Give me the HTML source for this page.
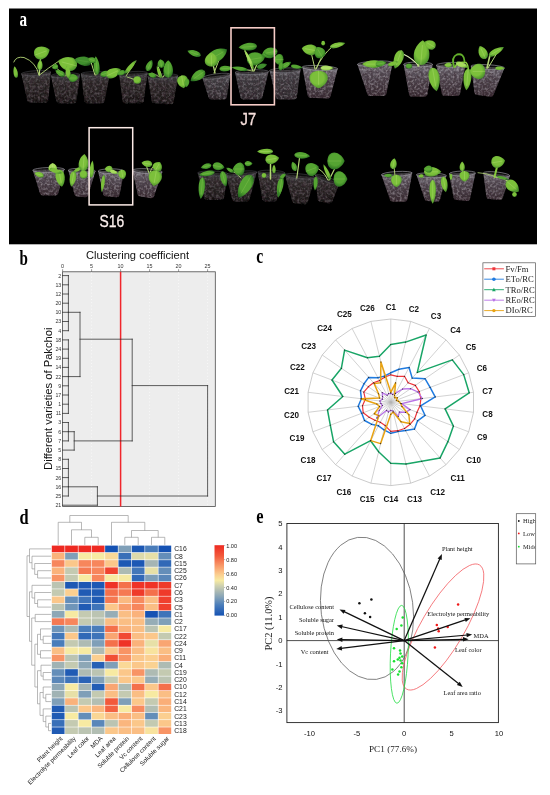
<!DOCTYPE html>
<html lang="en">
<head>
<meta charset="utf-8">
<title>Figure</title>
<style>
html,body{margin:0;padding:0;background:#fff;}
body{width:550px;height:795px;overflow:hidden;}
svg{display:block;}
.sans{font-family:"Liberation Sans",Arial,sans-serif;}
.serif{font-family:"Liberation Serif","Times New Roman",serif;}
.pl{font-family:"Liberation Serif","Times New Roman",serif;font-weight:bold;font-size:21px;}
</style>
</head>
<body>
<svg width="550" height="795" viewBox="0 0 550 795">
<rect x="0" y="0" width="550" height="795" fill="#ffffff"/>
<defs>
<linearGradient id="pg" x1="0" y1="0" x2="0" y2="1"><stop offset="0" stop-color="#77747c"/><stop offset="0.35" stop-color="#544b54"/><stop offset="1" stop-color="#34262d"/></linearGradient>
<linearGradient id="pm" x1="0" y1="0" x2="0" y2="1"><stop offset="0" stop-color="#5c5a60"/><stop offset="0.3" stop-color="#3b383c"/><stop offset="1" stop-color="#2a2428"/></linearGradient>
<linearGradient id="pd" x1="0" y1="0" x2="0" y2="1"><stop offset="0" stop-color="#3b3b3f"/><stop offset="0.3" stop-color="#2a2525"/><stop offset="0.85" stop-color="#1c1717"/><stop offset="1" stop-color="#0c0a0a"/></linearGradient>
<filter id="spk" x="0" y="0" width="100%" height="100%"><feTurbulence type="fractalNoise" baseFrequency="0.42" numOctaves="2" seed="7" result="n"/><feColorMatrix in="n" type="matrix" values="0 0 0 0 0.72  0 0 0 0 0.69  0 0 0 0 0.74  0 0 0 2.4 -1.0" result="c"/><feComposite in="c" in2="SourceGraphic" operator="in"/></filter>
<filter id="spd" x="0" y="0" width="100%" height="100%"><feTurbulence type="fractalNoise" baseFrequency="0.3" numOctaves="2" seed="23" result="n"/><feColorMatrix in="n" type="matrix" values="0 0 0 0 0.05  0 0 0 0 0.03  0 0 0 0 0.04  0 0 0 2.6 -1.0" result="c"/><feComposite in="c" in2="SourceGraphic" operator="in"/></filter>
<radialGradient id="lg1" cx="0.45" cy="0.42" r="0.62"><stop offset="0" stop-color="#7cc03b"/><stop offset="0.55" stop-color="#7cc03b"/><stop offset="1" stop-color="#488f2b"/></radialGradient>
<radialGradient id="lg2" cx="0.45" cy="0.42" r="0.62"><stop offset="0" stop-color="#55a431"/><stop offset="0.55" stop-color="#55a431"/><stop offset="1" stop-color="#276d21"/></radialGradient>
<radialGradient id="lg3" cx="0.45" cy="0.42" r="0.62"><stop offset="0" stop-color="#418e2d"/><stop offset="0.55" stop-color="#418e2d"/><stop offset="1" stop-color="#225c1e"/></radialGradient>
<radialGradient id="lg4" cx="0.45" cy="0.42" r="0.62"><stop offset="0" stop-color="#a8dc5e"/><stop offset="0.55" stop-color="#a8dc5e"/><stop offset="1" stop-color="#68b234"/></radialGradient>
<filter id="blp" x="-5%" y="-5%" width="110%" height="110%"><feGaussianBlur stdDeviation="0.6"/></filter>
<filter id="blr" x="-5%" y="-5%" width="110%" height="110%"><feGaussianBlur stdDeviation="0.35"/></filter>
</defs>
<g id="panel-a">
<rect x="9" y="8.5" width="528" height="235.8" fill="#000000"/>
<g filter="url(#blp)">
<path d="M21.3,73.6 L50.9,71.8 L48.2,100.7 Q47.7,102.7 45.2,102.7 L30.3,102.7 Q27.8,102.7 27.3,100.7 Z" fill="url(#pd)"/>
<path d="M21.3,73.6 L50.9,71.8 L48.2,100.7 Q47.7,102.7 45.2,102.7 L30.3,102.7 Q27.8,102.7 27.3,100.7 Z" fill="#fff" filter="url(#spd)" opacity="0.6"/>
<path d="M21.3,73.6 L50.9,71.8 L48.2,100.7 Q47.7,102.7 45.2,102.7 L30.3,102.7 Q27.8,102.7 27.3,100.7 Z" fill="#fff" filter="url(#spk)" opacity="0.24"/>
<ellipse cx="36.1" cy="73.0" rx="14.8" ry="2.4" fill="#1a1718" fill-opacity="0.5" stroke="#6e7078" stroke-width="0.8" stroke-opacity="0.4" transform="rotate(-3.5 36.1 72.7)"/>
<path d="M50.9,75.5 L80.0,74.5 L76.4,101.6 Q75.9,103.6 73.4,103.6 L59.4,103.6 Q56.9,103.6 56.4,101.6 Z" fill="url(#pd)"/>
<path d="M50.9,75.5 L80.0,74.5 L76.4,101.6 Q75.9,103.6 73.4,103.6 L59.4,103.6 Q56.9,103.6 56.4,101.6 Z" fill="#fff" filter="url(#spd)" opacity="0.6"/>
<path d="M50.9,75.5 L80.0,74.5 L76.4,101.6 Q75.9,103.6 73.4,103.6 L59.4,103.6 Q56.9,103.6 56.4,101.6 Z" fill="#fff" filter="url(#spk)" opacity="0.24"/>
<ellipse cx="65.5" cy="75.3" rx="14.6" ry="2.4" fill="#1a1718" fill-opacity="0.5" stroke="#6e7078" stroke-width="0.8" stroke-opacity="0.4" transform="rotate(-2.0 65.5 75.0)"/>
<path d="M80.9,73.6 L110.0,73.6 L104.5,101.6 Q104.0,103.6 101.5,103.6 L87.5,103.6 Q85.0,103.6 84.5,101.6 Z" fill="url(#pd)"/>
<path d="M80.9,73.6 L110.0,73.6 L104.5,101.6 Q104.0,103.6 101.5,103.6 L87.5,103.6 Q85.0,103.6 84.5,101.6 Z" fill="#fff" filter="url(#spd)" opacity="0.6"/>
<path d="M80.9,73.6 L110.0,73.6 L104.5,101.6 Q104.0,103.6 101.5,103.6 L87.5,103.6 Q85.0,103.6 84.5,101.6 Z" fill="#fff" filter="url(#spk)" opacity="0.24"/>
<ellipse cx="95.5" cy="73.9" rx="14.5" ry="2.4" fill="#1a1718" fill-opacity="0.5" stroke="#6e7078" stroke-width="0.8" stroke-opacity="0.4" transform="rotate(0.0 95.5 73.6)"/>
<path d="M119.1,74.5 L147.6,72.7 L143.6,101.6 Q143.1,103.6 140.6,103.6 L125.7,103.6 Q123.2,103.6 122.7,101.6 Z" fill="url(#pd)"/>
<path d="M119.1,74.5 L147.6,72.7 L143.6,101.6 Q143.1,103.6 140.6,103.6 L125.7,103.6 Q123.2,103.6 122.7,101.6 Z" fill="#fff" filter="url(#spd)" opacity="0.6"/>
<path d="M119.1,74.5 L147.6,72.7 L143.6,101.6 Q143.1,103.6 140.6,103.6 L125.7,103.6 Q123.2,103.6 122.7,101.6 Z" fill="#fff" filter="url(#spk)" opacity="0.24"/>
<ellipse cx="133.3" cy="73.9" rx="14.2" ry="2.4" fill="#1a1718" fill-opacity="0.5" stroke="#6e7078" stroke-width="0.8" stroke-opacity="0.4" transform="rotate(-3.6 133.3 73.6)"/>
<path d="M147.6,76.4 L178.2,75.5 L173.6,102.5 Q173.1,104.5 170.6,104.5 L154.8,103.6 Q152.3,103.6 151.8,101.6 Z" fill="url(#pd)"/>
<path d="M147.6,76.4 L178.2,75.5 L173.6,102.5 Q173.1,104.5 170.6,104.5 L154.8,103.6 Q152.3,103.6 151.8,101.6 Z" fill="#fff" filter="url(#spd)" opacity="0.6"/>
<path d="M147.6,76.4 L178.2,75.5 L173.6,102.5 Q173.1,104.5 170.6,104.5 L154.8,103.6 Q152.3,103.6 151.8,101.6 Z" fill="#fff" filter="url(#spk)" opacity="0.24"/>
<ellipse cx="162.9" cy="76.2" rx="15.3" ry="2.4" fill="#1a1718" fill-opacity="0.5" stroke="#6e7078" stroke-width="0.8" stroke-opacity="0.4" transform="rotate(-1.7 162.9 76.0)"/>
<path d="M202.3,77.7 L230.5,74.1 L226.8,97.5 Q226.3,99.5 223.8,99.5 L211.6,99.5 Q209.1,99.5 208.6,97.5 Z" fill="url(#pm)"/>
<path d="M202.3,77.7 L230.5,74.1 L226.8,97.5 Q226.3,99.5 223.8,99.5 L211.6,99.5 Q209.1,99.5 208.6,97.5 Z" fill="#fff" filter="url(#spd)" opacity="0.6"/>
<path d="M202.3,77.7 L230.5,74.1 L226.8,97.5 Q226.3,99.5 223.8,99.5 L211.6,99.5 Q209.1,99.5 208.6,97.5 Z" fill="#fff" filter="url(#spk)" opacity="0.34"/>
<ellipse cx="216.4" cy="76.2" rx="14.1" ry="2.4" fill="#1a1718" fill-opacity="0.5" stroke="#85858c" stroke-width="0.8" stroke-opacity="0.6" transform="rotate(-7.3 216.4 75.9)"/>
<path d="M235.0,72.3 L268.6,71.4 L262.3,97.5 Q261.8,99.5 259.3,99.5 L243.5,99.5 Q241.0,99.5 240.5,97.5 Z" fill="url(#pm)"/>
<path d="M235.0,72.3 L268.6,71.4 L262.3,97.5 Q261.8,99.5 259.3,99.5 L243.5,99.5 Q241.0,99.5 240.5,97.5 Z" fill="#fff" filter="url(#spd)" opacity="0.6"/>
<path d="M235.0,72.3 L268.6,71.4 L262.3,97.5 Q261.8,99.5 259.3,99.5 L243.5,99.5 Q241.0,99.5 240.5,97.5 Z" fill="#fff" filter="url(#spk)" opacity="0.34"/>
<ellipse cx="251.8" cy="72.1" rx="16.8" ry="2.4" fill="#1a1718" fill-opacity="0.5" stroke="#85858c" stroke-width="0.8" stroke-opacity="0.6" transform="rotate(-1.5 251.8 71.8)"/>
<path d="M269.5,70.5 L300.5,69.5 L296.8,97.5 Q296.3,99.5 293.8,99.5 L278.9,99.5 Q276.4,99.5 275.9,97.5 Z" fill="url(#pm)"/>
<path d="M269.5,70.5 L300.5,69.5 L296.8,97.5 Q296.3,99.5 293.8,99.5 L278.9,99.5 Q276.4,99.5 275.9,97.5 Z" fill="#fff" filter="url(#spd)" opacity="0.6"/>
<path d="M269.5,70.5 L300.5,69.5 L296.8,97.5 Q296.3,99.5 293.8,99.5 L278.9,99.5 Q276.4,99.5 275.9,97.5 Z" fill="#fff" filter="url(#spk)" opacity="0.34"/>
<ellipse cx="285.0" cy="70.3" rx="15.5" ry="2.4" fill="#1a1718" fill-opacity="0.5" stroke="#85858c" stroke-width="0.8" stroke-opacity="0.6" transform="rotate(-1.8 285.0 70.0)"/>
<path d="M302.3,66.8 L337.7,68.6 L330.5,96.6 Q330.0,98.6 327.5,98.6 L310.7,97.7 Q308.2,97.7 307.7,95.7 Z" fill="url(#pg)"/>
<path d="M302.3,66.8 L337.7,68.6 L330.5,96.6 Q330.0,98.6 327.5,98.6 L310.7,97.7 Q308.2,97.7 307.7,95.7 Z" fill="#fff" filter="url(#spd)" opacity="0.6"/>
<path d="M302.3,66.8 L337.7,68.6 L330.5,96.6 Q330.0,98.6 327.5,98.6 L310.7,97.7 Q308.2,97.7 307.7,95.7 Z" fill="#fff" filter="url(#spk)" opacity="0.4"/>
<ellipse cx="320.0" cy="68.0" rx="17.7" ry="2.4" fill="#1a1718" fill-opacity="0.5" stroke="#a5a3ad" stroke-width="0.8" stroke-opacity="0.75" transform="rotate(2.9 320.0 67.7)"/>
<path d="M357.3,64.1 L392.7,62.3 L386.4,93.9 Q385.9,95.9 383.4,95.9 L370.3,95.9 Q367.8,95.9 367.3,93.9 Z" fill="url(#pg)"/>
<path d="M357.3,64.1 L392.7,62.3 L386.4,93.9 Q385.9,95.9 383.4,95.9 L370.3,95.9 Q367.8,95.9 367.3,93.9 Z" fill="#fff" filter="url(#spd)" opacity="0.6"/>
<path d="M357.3,64.1 L392.7,62.3 L386.4,93.9 Q385.9,95.9 383.4,95.9 L370.3,95.9 Q367.8,95.9 367.3,93.9 Z" fill="#fff" filter="url(#spk)" opacity="0.4"/>
<ellipse cx="375.0" cy="63.5" rx="17.7" ry="2.4" fill="#1a1718" fill-opacity="0.5" stroke="#a5a3ad" stroke-width="0.8" stroke-opacity="0.75" transform="rotate(-2.9 375.0 63.2)"/>
<path d="M403.6,64.1 L432.7,64.1 L427.3,94.8 Q426.8,96.8 424.3,96.8 L412.1,96.8 Q409.6,96.8 409.1,94.8 Z" fill="url(#pg)"/>
<path d="M403.6,64.1 L432.7,64.1 L427.3,94.8 Q426.8,96.8 424.3,96.8 L412.1,96.8 Q409.6,96.8 409.1,94.8 Z" fill="#fff" filter="url(#spd)" opacity="0.6"/>
<path d="M403.6,64.1 L432.7,64.1 L427.3,94.8 Q426.8,96.8 424.3,96.8 L412.1,96.8 Q409.6,96.8 409.1,94.8 Z" fill="#fff" filter="url(#spk)" opacity="0.4"/>
<ellipse cx="418.1" cy="64.4" rx="14.5" ry="2.4" fill="#1a1718" fill-opacity="0.5" stroke="#a5a3ad" stroke-width="0.8" stroke-opacity="0.75" transform="rotate(0.0 418.1 64.1)"/>
<path d="M436.4,65.0 L465.5,64.1 L460.0,93.9 Q459.5,95.9 457.0,95.9 L444.8,95.9 Q442.3,95.9 441.8,93.9 Z" fill="url(#pg)"/>
<path d="M436.4,65.0 L465.5,64.1 L460.0,93.9 Q459.5,95.9 457.0,95.9 L444.8,95.9 Q442.3,95.9 441.8,93.9 Z" fill="#fff" filter="url(#spd)" opacity="0.6"/>
<path d="M436.4,65.0 L465.5,64.1 L460.0,93.9 Q459.5,95.9 457.0,95.9 L444.8,95.9 Q442.3,95.9 441.8,93.9 Z" fill="#fff" filter="url(#spk)" opacity="0.4"/>
<ellipse cx="450.9" cy="64.8" rx="14.6" ry="2.4" fill="#1a1718" fill-opacity="0.5" stroke="#a5a3ad" stroke-width="0.8" stroke-opacity="0.75" transform="rotate(-1.8 450.9 64.5)"/>
<path d="M470.9,65.9 L504.5,67.7 L493.6,94.8 Q493.1,96.8 490.6,96.8 L477.5,95.0 Q475.0,95.0 474.5,93.0 Z" fill="url(#pg)"/>
<path d="M470.9,65.9 L504.5,67.7 L493.6,94.8 Q493.1,96.8 490.6,96.8 L477.5,95.0 Q475.0,95.0 474.5,93.0 Z" fill="#fff" filter="url(#spd)" opacity="0.6"/>
<path d="M470.9,65.9 L504.5,67.7 L493.6,94.8 Q493.1,96.8 490.6,96.8 L477.5,95.0 Q475.0,95.0 474.5,93.0 Z" fill="#fff" filter="url(#spk)" opacity="0.4"/>
<ellipse cx="487.7" cy="67.1" rx="16.8" ry="2.4" fill="#1a1718" fill-opacity="0.5" stroke="#a5a3ad" stroke-width="0.8" stroke-opacity="0.75" transform="rotate(3.1 487.7 66.8)"/>
<path d="M32.7,170.0 L64.5,169.1 L58.2,193.5 Q57.7,195.5 55.2,195.5 L43.0,195.5 Q40.5,195.5 40.0,193.5 Z" fill="url(#pg)"/>
<path d="M32.7,170.0 L64.5,169.1 L58.2,193.5 Q57.7,195.5 55.2,195.5 L43.0,195.5 Q40.5,195.5 40.0,193.5 Z" fill="#fff" filter="url(#spd)" opacity="0.6"/>
<path d="M32.7,170.0 L64.5,169.1 L58.2,193.5 Q57.7,195.5 55.2,195.5 L43.0,195.5 Q40.5,195.5 40.0,193.5 Z" fill="#fff" filter="url(#spk)" opacity="0.4"/>
<ellipse cx="48.6" cy="169.9" rx="15.9" ry="2.4" fill="#1a1718" fill-opacity="0.5" stroke="#a5a3ad" stroke-width="0.8" stroke-opacity="0.75" transform="rotate(-1.6 48.6 169.6)"/>
<path d="M68.2,170.0 L95.5,170.9 L88.2,195.3 Q87.7,197.3 85.2,197.3 L77.5,196.4 Q75.0,196.4 74.5,194.4 Z" fill="url(#pg)"/>
<path d="M68.2,170.0 L95.5,170.9 L88.2,195.3 Q87.7,197.3 85.2,197.3 L77.5,196.4 Q75.0,196.4 74.5,194.4 Z" fill="#fff" filter="url(#spd)" opacity="0.6"/>
<path d="M68.2,170.0 L95.5,170.9 L88.2,195.3 Q87.7,197.3 85.2,197.3 L77.5,196.4 Q75.0,196.4 74.5,194.4 Z" fill="#fff" filter="url(#spk)" opacity="0.4"/>
<ellipse cx="81.8" cy="170.8" rx="13.6" ry="2.4" fill="#1a1718" fill-opacity="0.5" stroke="#a5a3ad" stroke-width="0.8" stroke-opacity="0.75" transform="rotate(1.9 81.8 170.4)"/>
<path d="M98.1,170.9 L124.1,170.9 L119.5,195.3 Q119.0,197.3 116.5,197.3 L106.2,196.4 Q103.7,196.4 103.2,194.4 Z" fill="url(#pg)"/>
<path d="M98.1,170.9 L124.1,170.9 L119.5,195.3 Q119.0,197.3 116.5,197.3 L106.2,196.4 Q103.7,196.4 103.2,194.4 Z" fill="#fff" filter="url(#spd)" opacity="0.6"/>
<path d="M98.1,170.9 L124.1,170.9 L119.5,195.3 Q119.0,197.3 116.5,197.3 L106.2,196.4 Q103.7,196.4 103.2,194.4 Z" fill="#fff" filter="url(#spk)" opacity="0.4"/>
<ellipse cx="111.1" cy="171.2" rx="13.0" ry="2.4" fill="#1a1718" fill-opacity="0.5" stroke="#a5a3ad" stroke-width="0.8" stroke-opacity="0.75" transform="rotate(0.0 111.1 170.9)"/>
<path d="M132.6,170.0 L162.3,171.8 L154.1,196.2 Q153.6,198.2 151.1,198.2 L140.7,196.4 Q138.2,196.4 137.7,194.4 Z" fill="url(#pg)"/>
<path d="M132.6,170.0 L162.3,171.8 L154.1,196.2 Q153.6,198.2 151.1,198.2 L140.7,196.4 Q138.2,196.4 137.7,194.4 Z" fill="#fff" filter="url(#spd)" opacity="0.6"/>
<path d="M132.6,170.0 L162.3,171.8 L154.1,196.2 Q153.6,198.2 151.1,198.2 L140.7,196.4 Q138.2,196.4 137.7,194.4 Z" fill="#fff" filter="url(#spk)" opacity="0.4"/>
<ellipse cx="147.4" cy="171.2" rx="14.9" ry="2.4" fill="#1a1718" fill-opacity="0.5" stroke="#a5a3ad" stroke-width="0.8" stroke-opacity="0.75" transform="rotate(3.5 147.4 170.9)"/>
<path d="M197.7,172.7 L227.7,173.6 L224.0,198.0 Q223.5,200.0 221.0,200.0 L207.0,200.0 Q204.5,200.0 204.0,198.0 Z" fill="url(#pd)"/>
<path d="M197.7,172.7 L227.7,173.6 L224.0,198.0 Q223.5,200.0 221.0,200.0 L207.0,200.0 Q204.5,200.0 204.0,198.0 Z" fill="#fff" filter="url(#spd)" opacity="0.6"/>
<path d="M197.7,172.7 L227.7,173.6 L224.0,198.0 Q223.5,200.0 221.0,200.0 L207.0,200.0 Q204.5,200.0 204.0,198.0 Z" fill="#fff" filter="url(#spk)" opacity="0.24"/>
<ellipse cx="212.7" cy="173.4" rx="15.0" ry="2.4" fill="#1a1718" fill-opacity="0.5" stroke="#6e7078" stroke-width="0.8" stroke-opacity="0.4" transform="rotate(1.7 212.7 173.1)"/>
<path d="M226.0,174.5 L256.8,171.8 L249.5,199.8 Q249.0,201.8 246.5,201.8 L235.3,201.8 Q232.8,201.8 232.3,199.8 Z" fill="url(#pd)"/>
<path d="M226.0,174.5 L256.8,171.8 L249.5,199.8 Q249.0,201.8 246.5,201.8 L235.3,201.8 Q232.8,201.8 232.3,199.8 Z" fill="#fff" filter="url(#spd)" opacity="0.6"/>
<path d="M226.0,174.5 L256.8,171.8 L249.5,199.8 Q249.0,201.8 246.5,201.8 L235.3,201.8 Q232.8,201.8 232.3,199.8 Z" fill="#fff" filter="url(#spk)" opacity="0.24"/>
<ellipse cx="241.4" cy="173.5" rx="15.4" ry="2.4" fill="#1a1718" fill-opacity="0.5" stroke="#6e7078" stroke-width="0.8" stroke-opacity="0.4" transform="rotate(-5.0 241.4 173.2)"/>
<path d="M257.7,171.8 L285.0,172.7 L277.0,199.8 Q276.5,201.8 274.0,201.8 L265.3,201.8 Q262.8,201.8 262.3,199.8 Z" fill="url(#pd)"/>
<path d="M257.7,171.8 L285.0,172.7 L277.0,199.8 Q276.5,201.8 274.0,201.8 L265.3,201.8 Q262.8,201.8 262.3,199.8 Z" fill="#fff" filter="url(#spd)" opacity="0.6"/>
<path d="M257.7,171.8 L285.0,172.7 L277.0,199.8 Q276.5,201.8 274.0,201.8 L265.3,201.8 Q262.8,201.8 262.3,199.8 Z" fill="#fff" filter="url(#spk)" opacity="0.24"/>
<ellipse cx="271.4" cy="172.6" rx="13.7" ry="2.4" fill="#1a1718" fill-opacity="0.5" stroke="#6e7078" stroke-width="0.8" stroke-opacity="0.4" transform="rotate(1.9 271.4 172.2)"/>
<path d="M285.0,174.5 L315.0,177.3 L307.7,202.5 Q307.2,204.5 304.7,204.5 L295.3,203.6 Q292.8,203.6 292.3,201.6 Z" fill="url(#pd)"/>
<path d="M285.0,174.5 L315.0,177.3 L307.7,202.5 Q307.2,204.5 304.7,204.5 L295.3,203.6 Q292.8,203.6 292.3,201.6 Z" fill="#fff" filter="url(#spd)" opacity="0.6"/>
<path d="M285.0,174.5 L315.0,177.3 L307.7,202.5 Q307.2,204.5 304.7,204.5 L295.3,203.6 Q292.8,203.6 292.3,201.6 Z" fill="#fff" filter="url(#spk)" opacity="0.24"/>
<ellipse cx="300.0" cy="176.2" rx="15.0" ry="2.4" fill="#1a1718" fill-opacity="0.5" stroke="#6e7078" stroke-width="0.8" stroke-opacity="0.4" transform="rotate(5.3 300.0 175.9)"/>
<path d="M315.0,174.5 L339.5,183.6 L332.3,201.6 Q331.8,203.6 329.3,203.6 L320.7,201.8 Q318.2,201.8 317.7,199.8 Z" fill="url(#pd)"/>
<path d="M315.0,174.5 L339.5,183.6 L332.3,201.6 Q331.8,203.6 329.3,203.6 L320.7,201.8 Q318.2,201.8 317.7,199.8 Z" fill="#fff" filter="url(#spd)" opacity="0.6"/>
<path d="M315.0,174.5 L339.5,183.6 L332.3,201.6 Q331.8,203.6 329.3,203.6 L320.7,201.8 Q318.2,201.8 317.7,199.8 Z" fill="#fff" filter="url(#spk)" opacity="0.24"/>
<ellipse cx="327.2" cy="179.4" rx="12.2" ry="2.4" fill="#1a1718" fill-opacity="0.5" stroke="#6e7078" stroke-width="0.8" stroke-opacity="0.4" transform="rotate(20.4 327.2 179.1)"/>
<path d="M381.3,174.5 L412.2,172.7 L407.3,199.8 Q406.8,201.8 404.3,201.8 L393.0,201.8 Q390.5,201.8 390.0,199.8 Z" fill="url(#pg)"/>
<path d="M381.3,174.5 L412.2,172.7 L407.3,199.8 Q406.8,201.8 404.3,201.8 L393.0,201.8 Q390.5,201.8 390.0,199.8 Z" fill="#fff" filter="url(#spd)" opacity="0.6"/>
<path d="M381.3,174.5 L412.2,172.7 L407.3,199.8 Q406.8,201.8 404.3,201.8 L393.0,201.8 Q390.5,201.8 390.0,199.8 Z" fill="#fff" filter="url(#spk)" opacity="0.4"/>
<ellipse cx="396.8" cy="173.9" rx="15.4" ry="2.4" fill="#1a1718" fill-opacity="0.5" stroke="#a5a3ad" stroke-width="0.8" stroke-opacity="0.75" transform="rotate(-3.3 396.8 173.6)"/>
<path d="M416.4,174.5 L446.4,175.5 L440.0,199.8 Q439.5,201.8 437.0,201.8 L427.5,200.9 Q425.0,200.9 424.5,198.9 Z" fill="url(#pg)"/>
<path d="M416.4,174.5 L446.4,175.5 L440.0,199.8 Q439.5,201.8 437.0,201.8 L427.5,200.9 Q425.0,200.9 424.5,198.9 Z" fill="#fff" filter="url(#spd)" opacity="0.6"/>
<path d="M416.4,174.5 L446.4,175.5 L440.0,199.8 Q439.5,201.8 437.0,201.8 L427.5,200.9 Q425.0,200.9 424.5,198.9 Z" fill="#fff" filter="url(#spk)" opacity="0.4"/>
<ellipse cx="431.4" cy="175.3" rx="15.0" ry="2.4" fill="#1a1718" fill-opacity="0.5" stroke="#a5a3ad" stroke-width="0.8" stroke-opacity="0.75" transform="rotate(1.9 431.4 175.0)"/>
<path d="M449.1,173.6 L475.5,172.7 L470.0,198.9 Q469.5,200.9 467.0,200.9 L456.6,200.0 Q454.1,200.0 453.6,198.0 Z" fill="url(#pg)"/>
<path d="M449.1,173.6 L475.5,172.7 L470.0,198.9 Q469.5,200.9 467.0,200.9 L456.6,200.0 Q454.1,200.0 453.6,198.0 Z" fill="#fff" filter="url(#spd)" opacity="0.6"/>
<path d="M449.1,173.6 L475.5,172.7 L470.0,198.9 Q469.5,200.9 467.0,200.9 L456.6,200.0 Q454.1,200.0 453.6,198.0 Z" fill="#fff" filter="url(#spk)" opacity="0.4"/>
<ellipse cx="462.3" cy="173.4" rx="13.2" ry="2.4" fill="#1a1718" fill-opacity="0.5" stroke="#a5a3ad" stroke-width="0.8" stroke-opacity="0.75" transform="rotate(-2.0 462.3 173.1)"/>
<path d="M483.3,172.7 L510.0,175.5 L502.7,198.0 Q502.2,200.0 499.7,200.0 L489.4,199.0 Q486.9,199.0 486.4,197.0 Z" fill="url(#pg)"/>
<path d="M483.3,172.7 L510.0,175.5 L502.7,198.0 Q502.2,200.0 499.7,200.0 L489.4,199.0 Q486.9,199.0 486.4,197.0 Z" fill="#fff" filter="url(#spd)" opacity="0.6"/>
<path d="M483.3,172.7 L510.0,175.5 L502.7,198.0 Q502.2,200.0 499.7,200.0 L489.4,199.0 Q486.9,199.0 486.4,197.0 Z" fill="#fff" filter="url(#spk)" opacity="0.4"/>
<ellipse cx="496.6" cy="174.4" rx="13.3" ry="2.4" fill="#1a1718" fill-opacity="0.5" stroke="#a5a3ad" stroke-width="0.8" stroke-opacity="0.75" transform="rotate(6.0 496.6 174.1)"/>
</g>
<g filter="url(#blr)">
<path d="M39,75 Q36,62 24,57.5 Q16,56 13.8,62" fill="none" stroke="#b5d777" stroke-width="0.9" stroke-linecap="round"/>
<path d="M39.2,75 L40.5,58" fill="none" stroke="#b5d777" stroke-width="1.2" stroke-linecap="round"/>
<path d="M39.5,75 Q48,68 59,61" fill="none" stroke="#b5d777" stroke-width="0.9" stroke-linecap="round"/>
<path d="M66,76 L67,66" fill="none" stroke="#b5d777" stroke-width="1.2" stroke-linecap="round"/>
<path d="M64,76 Q60,70 55,67" fill="none" stroke="#b5d777" stroke-width="0.9" stroke-linecap="round"/>
<path d="M95,75 L91,62" fill="none" stroke="#b5d777" stroke-width="1.0" stroke-linecap="round"/>
<path d="M96,75 L97,62" fill="none" stroke="#b5d777" stroke-width="1.0" stroke-linecap="round"/>
<path d="M126,76 Q130,70 136,61" fill="none" stroke="#b5d777" stroke-width="0.9" stroke-linecap="round"/>
<path d="M127,77 L136,80" fill="none" stroke="#b5d777" stroke-width="0.8" stroke-linecap="round"/>
<path d="M162,77 L158,66" fill="none" stroke="#b5d777" stroke-width="1.0" stroke-linecap="round"/>
<path d="M163,77 L168,70" fill="none" stroke="#b5d777" stroke-width="1.0" stroke-linecap="round"/>
<path d="M160,77 L152,73" fill="none" stroke="#b5d777" stroke-width="0.8" stroke-linecap="round"/>
<path d="M215,73 L212,60" fill="none" stroke="#b5d777" stroke-width="1.3" stroke-linecap="round"/>
<path d="M214,73 L219,60" fill="none" stroke="#b5d777" stroke-width="1.0" stroke-linecap="round"/>
<path d="M253,71 L245,51" fill="none" stroke="#b5d777" stroke-width="1.4" stroke-linecap="round"/>
<path d="M254,71 L258,62" fill="none" stroke="#b5d777" stroke-width="1.2" stroke-linecap="round"/>
<path d="M252,71 Q245,69 236,68" fill="none" stroke="#b5d777" stroke-width="0.8" stroke-linecap="round"/>
<path d="M283,69 L279,62" fill="none" stroke="#b5d777" stroke-width="1.0" stroke-linecap="round"/>
<path d="M315,69 L311,52" fill="none" stroke="#b5d777" stroke-width="1.0" stroke-linecap="round"/>
<path d="M316,69 Q322,55 333,46" fill="none" stroke="#b5d777" stroke-width="1.0" stroke-linecap="round"/>
<path d="M316,69 L322,56" fill="none" stroke="#b5d777" stroke-width="0.9" stroke-linecap="round"/>
<path d="M403,54 Q412,58 419,66" fill="none" stroke="#d8e8b0" stroke-width="1.2" stroke-linecap="round"/>
<path d="M418,66 L421,58" fill="none" stroke="#b5d777" stroke-width="1.5" stroke-linecap="round"/>
<path d="M454,67 Q451,57 457,54.5 Q464,53 464.5,61" fill="none" stroke="#63b02c" stroke-width="1.8" stroke-linecap="round"/>
<path d="M455,67 Q458,61 466,62.5 Q469,66 468,72" fill="none" stroke="#86c93c" stroke-width="1.6" stroke-linecap="round"/>
<path d="M487,68 L490,55" fill="none" stroke="#b5d777" stroke-width="1.6" stroke-linecap="round"/>
<path d="M488,68 L497,53" fill="none" stroke="#b5d777" stroke-width="1.0" stroke-linecap="round"/>
<path d="M149,173 L146,165" fill="none" stroke="#b5d777" stroke-width="1.0" stroke-linecap="round"/>
<path d="M150,173 Q152,165 157,164" fill="none" stroke="#b5d777" stroke-width="1.0" stroke-linecap="round"/>
<path d="M270.5,161 L270.5,179" fill="none" stroke="#b5d777" stroke-width="1.5" stroke-linecap="round"/>
<path d="M299.5,158 L296.8,178" fill="none" stroke="#b5d777" stroke-width="1.2" stroke-linecap="round"/>
<path d="M328,180 Q322,168 315,168" fill="none" stroke="#b5d777" stroke-width="1.0" stroke-linecap="round"/>
<path d="M329,180 L335,168" fill="none" stroke="#b5d777" stroke-width="1.2" stroke-linecap="round"/>
<path d="M395,176 L394,166" fill="none" stroke="#b5d777" stroke-width="0.9" stroke-linecap="round"/>
<path d="M463,174 L462.5,168" fill="none" stroke="#b5d777" stroke-width="1.0" stroke-linecap="round"/>
<path d="M494.5,177 L497.5,165" fill="none" stroke="#86c93c" stroke-width="2.0" stroke-linecap="round"/>
<path d="M494,176 Q486,173 478,172.7" fill="none" stroke="#b5d777" stroke-width="0.8" stroke-linecap="round"/>
<path d="M495,177 Q505,178 510,183" fill="none" stroke="#b5d777" stroke-width="0.9" stroke-linecap="round"/>
<path d="M84,172 L84,165" fill="none" stroke="#b5d777" stroke-width="1.2" stroke-linecap="round"/>
<path d="M241,178 Q236,172 230,170" fill="none" stroke="#b5d777" stroke-width="0.9" stroke-linecap="round"/>
<path d="M34.39,55.27 C37.67,63.35 48.19,59.08 49.61,49.73 C42.51,43.48 31.71,46.97 34.39,55.27Z" fill="url(#lg1)"/>
<path d="M34.39,55.27L46.57,50.84" stroke="#b9e27a" stroke-width="0.5" stroke-opacity="0.7" fill="none"/>
<path d="M39.55,70.16 C43.17,70.27 43.63,63.03 40.45,59.84 C36.77,62.43 35.96,69.64 39.55,70.16Z" fill="url(#lg1)"/>
<path d="M39.55,70.16L40.27,61.90" stroke="#b9e27a" stroke-width="0.5" stroke-opacity="0.7" fill="none"/>
<path d="M16.53,77.85 C19.40,77.10 17.82,68.94 14.47,66.15 C12.27,69.92 13.58,78.13 16.53,77.85Z" fill="url(#lg1)"/>
<path d="M76.89,66.02 C78.98,56.70 65.72,53.62 58.11,60.98 C61.02,71.17 74.04,75.13 76.89,66.02Z" fill="url(#lg1)"/>
<path d="M76.89,66.02L61.87,61.99" stroke="#b9e27a" stroke-width="0.5" stroke-opacity="0.7" fill="none"/>
<path d="M58.04,65.89 C56.69,62.54 52.48,64.25 51.96,68.11 C54.84,70.73 59.16,69.34 58.04,65.89Z" fill="url(#lg2)"/>
<path d="M58.04,65.89L53.17,67.66" stroke="#8fc95a" stroke-width="0.5" stroke-opacity="0.7" fill="none"/>
<path d="M68.64,78.00 C68.83,83.43 75.64,83.17 78.36,78.00 C75.64,72.83 68.83,72.57 68.64,78.00Z" fill="url(#lg2)"/>
<path d="M68.64,78.00L76.42,78.00" stroke="#8fc95a" stroke-width="0.5" stroke-opacity="0.7" fill="none"/>
<path d="M64.68,75.70 C66.38,72.32 59.74,68.69 55.32,70.30 C56.14,74.93 62.60,78.87 64.68,75.70Z" fill="url(#lg2)"/>
<path d="M64.68,75.70L57.19,71.38" stroke="#8fc95a" stroke-width="0.5" stroke-opacity="0.7" fill="none"/>
<path d="M69.13,78.38 C72.32,77.56 70.59,68.65 66.87,65.62 C64.42,69.74 65.84,78.70 69.13,78.38Z" fill="url(#lg1)"/>
<path d="M91.51,62.50 C92.25,56.29 80.29,54.48 74.49,59.50 C78.22,66.20 90.08,68.59 91.51,62.50Z" fill="url(#lg3)"/>
<path d="M91.51,62.50L77.89,60.10" stroke="#6aa84a" stroke-width="0.5" stroke-opacity="0.7" fill="none"/>
<path d="M97.30,74.65 C101.36,73.92 100.05,61.13 95.70,56.35 C92.25,61.82 93.17,74.64 97.30,74.65Z" fill="url(#lg2)"/>
<path d="M97.30,74.65L96.02,60.01" stroke="#8fc95a" stroke-width="0.5" stroke-opacity="0.7" fill="none"/>
<path d="M100.43,75.35 C101.92,78.83 108.96,76.07 110.57,71.65 C106.50,69.30 99.34,71.72 100.43,75.35Z" fill="url(#lg2)"/>
<path d="M100.43,75.35L108.54,72.39" stroke="#8fc95a" stroke-width="0.5" stroke-opacity="0.7" fill="none"/>
<path d="M96.06,61.48 C97.19,57.86 91.45,55.97 87.94,58.52 C88.98,62.73 94.60,64.97 96.06,61.48Z" fill="url(#lg2)"/>
<path d="M96.06,61.48L89.56,59.11" stroke="#8fc95a" stroke-width="0.5" stroke-opacity="0.7" fill="none"/>
<path d="M106.45,76.03 C109.52,81.86 119.39,76.91 120.75,69.37 C114.10,65.56 103.96,69.94 106.45,76.03Z" fill="url(#lg1)"/>
<path d="M106.45,76.03L117.89,70.70" stroke="#b9e27a" stroke-width="0.5" stroke-opacity="0.7" fill="none"/>
<path d="M124.95,73.42 C127.31,74.95 134.98,65.60 136.05,60.18 C130.90,62.18 123.03,71.36 124.95,73.42Z" fill="url(#lg1)"/>
<ellipse cx="137.3" cy="80" rx="3.89" ry="3.67" fill="url(#lg1)" transform="rotate(0 137.3 80)"/>
<path d="M125.06,71.52 C123.77,68.49 118.14,70.71 116.94,74.48 C120.29,76.59 126.02,74.67 125.06,71.52Z" fill="url(#lg2)"/>
<path d="M146.99,70.88 C150.82,72.41 154.15,64.79 152.01,60.12 C147.06,61.48 143.36,68.93 146.99,70.88Z" fill="url(#lg2)"/>
<path d="M146.99,70.88L151.01,62.27" stroke="#8fc95a" stroke-width="0.5" stroke-opacity="0.7" fill="none"/>
<path d="M168.20,77.64 C174.78,77.29 174.46,65.20 168.20,60.36 C161.94,65.20 161.62,77.29 168.20,77.64Z" fill="url(#lg2)"/>
<path d="M168.20,77.64L168.20,63.82" stroke="#8fc95a" stroke-width="0.5" stroke-opacity="0.7" fill="none"/>
<path d="M161.75,67.75 C166.58,66.73 165.30,60.81 160.25,59.25 C156.04,62.44 156.86,68.44 161.75,67.75Z" fill="url(#lg2)"/>
<path d="M161.75,67.75L160.55,60.95" stroke="#8fc95a" stroke-width="0.5" stroke-opacity="0.7" fill="none"/>
<path d="M181.57,75.42 C174.33,76.96 176.26,85.83 183.83,88.18 C190.14,83.38 188.91,74.39 181.57,75.42Z" fill="url(#lg1)"/>
<path d="M181.57,75.42L183.38,85.63" stroke="#b9e27a" stroke-width="0.5" stroke-opacity="0.7" fill="none"/>
<path d="M156.06,76.48 C157.02,73.33 151.29,71.41 147.94,73.52 C149.14,77.29 154.77,79.51 156.06,76.48Z" fill="url(#lg2)"/>
<path d="M161.22,78.09 C163.14,77.11 159.94,68.62 156.78,65.91 C156.11,70.02 159.12,78.58 161.22,78.09Z" fill="url(#lg1)"/>
<path d="M208.35,60.40 C212.83,67.30 225.73,59.40 227.05,49.60 C217.90,45.84 204.61,53.06 208.35,60.40Z" fill="url(#lg2)"/>
<path d="M208.35,60.40L223.31,51.76" stroke="#8fc95a" stroke-width="0.5" stroke-opacity="0.7" fill="none"/>
<path d="M211.40,66.52 C220.44,66.24 220.01,56.41 211.40,52.48 C202.79,56.41 202.36,66.24 211.40,66.52Z" fill="url(#lg1)"/>
<path d="M211.40,66.52L211.40,55.29" stroke="#b9e27a" stroke-width="0.5" stroke-opacity="0.7" fill="none"/>
<path d="M200.60,55.60 C201.68,51.80 192.38,48.61 187.40,50.80 C189.81,55.68 198.98,59.21 200.60,55.60Z" fill="url(#lg2)"/>
<path d="M200.60,55.60L190.04,51.76" stroke="#8fc95a" stroke-width="0.5" stroke-opacity="0.7" fill="none"/>
<path d="M204.78,71.04 C200.91,66.12 191.17,73.31 190.62,80.96 C198.00,83.06 208.08,76.36 204.78,71.04Z" fill="url(#lg2)"/>
<path d="M204.78,71.04L193.45,78.97" stroke="#8fc95a" stroke-width="0.5" stroke-opacity="0.7" fill="none"/>
<path d="M187.55,78.75 C184.28,78.34 183.39,84.33 186.05,87.25 C189.55,85.42 190.76,79.49 187.55,78.75Z" fill="url(#lg2)"/>
<path d="M219.54,69.06 C220.15,72.97 229.17,72.00 232.46,67.94 C228.51,64.51 219.46,65.11 219.54,69.06Z" fill="url(#lg2)"/>
<path d="M219.54,69.06L229.87,68.16" stroke="#8fc95a" stroke-width="0.5" stroke-opacity="0.7" fill="none"/>
<path d="M256.85,46.00 C256.02,40.79 243.24,42.16 238.55,47.60 C244.11,52.14 256.94,51.27 256.85,46.00Z" fill="url(#lg2)"/>
<path d="M256.85,46.00L242.21,47.28" stroke="#8fc95a" stroke-width="0.5" stroke-opacity="0.7" fill="none"/>
<path d="M246.96,60.19 C248.89,69.04 261.47,66.38 265.04,57.01 C258.48,49.42 245.75,51.22 246.96,60.19Z" fill="url(#lg2)"/>
<path d="M246.96,60.19L261.42,57.64" stroke="#8fc95a" stroke-width="0.5" stroke-opacity="0.7" fill="none"/>
<path d="M275.38,51.38 C273.24,44.47 263.83,47.34 261.82,55.02 C267.40,60.66 276.98,58.44 275.38,51.38Z" fill="url(#lg2)"/>
<path d="M275.38,51.38L264.53,54.29" stroke="#8fc95a" stroke-width="0.5" stroke-opacity="0.7" fill="none"/>
<path d="M247.48,70.01 C247.61,67.36 236.43,65.51 231.52,67.19 C235.56,70.45 246.70,72.54 247.48,70.01Z" fill="url(#lg2)"/>
<path d="M253.56,68.79 C255.17,67.56 248.69,53.90 244.44,49.21 C245.29,55.49 251.59,69.23 253.56,68.79Z" fill="url(#lg4)"/>
<path d="M256.93,67.85 C258.25,70.86 265.30,68.13 267.07,64.15 C263.16,62.24 256.00,64.68 256.93,67.85Z" fill="url(#lg3)"/>
<path d="M283.46,59.50 C283.27,52.10 276.46,52.45 273.74,59.50 C276.46,66.55 283.27,66.90 283.46,59.50Z" fill="url(#lg2)"/>
<path d="M283.46,59.50L275.68,59.50" stroke="#8fc95a" stroke-width="0.5" stroke-opacity="0.7" fill="none"/>
<path d="M277.41,51.08 C276.14,45.46 266.51,47.44 263.59,53.52 C268.41,58.23 278.14,56.80 277.41,51.08Z" fill="url(#lg2)"/>
<path d="M277.41,51.08L266.35,53.03" stroke="#8fc95a" stroke-width="0.5" stroke-opacity="0.7" fill="none"/>
<path d="M280.86,67.97 C282.79,70.84 289.91,66.54 291.14,62.03 C286.62,60.85 279.34,64.86 280.86,67.97Z" fill="url(#lg2)"/>
<path d="M280.86,67.97L289.09,63.22" stroke="#8fc95a" stroke-width="0.5" stroke-opacity="0.7" fill="none"/>
<path d="M290.95,65.77 C290.70,68.56 298.91,69.88 302.65,67.83 C299.84,64.63 291.67,63.06 290.95,65.77Z" fill="url(#lg2)"/>
<path d="M280.25,70.25 C283.52,70.66 284.41,64.67 281.75,61.75 C278.25,63.58 277.04,69.51 280.25,70.25Z" fill="url(#lg2)"/>
<path d="M317.26,50.87 C318.21,43.69 307.28,42.11 301.74,48.13 C304.89,55.68 315.70,57.94 317.26,50.87Z" fill="url(#lg1)"/>
<path d="M317.26,50.87L304.84,48.68" stroke="#b9e27a" stroke-width="0.5" stroke-opacity="0.7" fill="none"/>
<path d="M330.08,47.04 C331.28,50.29 341.90,47.28 345.32,42.96 C340.20,40.93 329.50,43.62 330.08,47.04Z" fill="url(#lg1)"/>
<path d="M330.08,47.04L342.27,43.78" stroke="#b9e27a" stroke-width="0.5" stroke-opacity="0.7" fill="none"/>
<ellipse cx="323.2" cy="43.2" rx="1.94" ry="2.38" fill="url(#lg1)" transform="rotate(0 323.2 43.2)"/>
<path d="M318.60,70.64 C306.10,71.00 306.70,83.40 318.60,88.36 C330.50,83.40 331.10,71.00 318.60,70.64Z" fill="url(#lg1)"/>
<path d="M318.60,70.64L318.60,84.81" stroke="#b9e27a" stroke-width="0.5" stroke-opacity="0.7" fill="none"/>
<path d="M322.47,57.44 C328.76,53.54 324.30,46.51 316.53,47.16 C312.09,53.56 315.94,60.94 322.47,57.44Z" fill="url(#lg2)"/>
<path d="M322.47,57.44L317.72,49.21" stroke="#8fc95a" stroke-width="0.5" stroke-opacity="0.7" fill="none"/>
<path d="M320.52,68.00 C320.78,71.45 329.85,71.29 333.48,68.00 C329.85,64.71 320.78,64.55 320.52,68.00Z" fill="url(#lg4)"/>
<path d="M320.52,68.00L330.89,68.00" stroke="#d6efa0" stroke-width="0.5" stroke-opacity="0.7" fill="none"/>
<path d="M381.52,64.10 C381.13,58.84 367.52,59.09 362.08,64.10 C367.52,69.11 381.13,69.36 381.52,64.10Z" fill="url(#lg1)"/>
<path d="M381.52,64.10L365.97,64.10" stroke="#b9e27a" stroke-width="0.5" stroke-opacity="0.7" fill="none"/>
<path d="M375.68,64.44 C376.58,68.29 383.99,66.79 386.32,62.56 C382.69,59.39 375.21,60.51 375.68,64.44Z" fill="url(#lg2)"/>
<path d="M375.68,64.44L384.19,62.94" stroke="#8fc95a" stroke-width="0.5" stroke-opacity="0.7" fill="none"/>
<path d="M401.52,50.37 C395.52,48.59 391.15,61.48 394.88,68.63 C402.33,65.55 407.26,52.87 401.52,50.37Z" fill="url(#lg1)"/>
<path d="M401.52,50.37L396.21,64.98" stroke="#b9e27a" stroke-width="0.5" stroke-opacity="0.7" fill="none"/>
<path d="M420.72,64.87 C431.41,65.31 432.42,47.94 422.88,40.13 C412.14,46.17 410.11,63.45 420.72,64.87Z" fill="url(#lg1)"/>
<path d="M420.72,64.87L422.45,45.08" stroke="#b9e27a" stroke-width="0.5" stroke-opacity="0.7" fill="none"/>
<path d="M435.14,47.47 C438.06,41.94 430.71,38.04 424.86,41.53 C424.76,48.35 431.81,52.76 435.14,47.47Z" fill="url(#lg1)"/>
<path d="M435.14,47.47L426.91,42.72" stroke="#b9e27a" stroke-width="0.5" stroke-opacity="0.7" fill="none"/>
<path d="M432.44,67.80 C425.23,69.55 428.47,85.87 436.56,91.20 C442.35,83.42 439.81,66.98 432.44,67.80Z" fill="url(#lg1)"/>
<path d="M432.44,67.80L435.74,86.52" stroke="#b9e27a" stroke-width="0.5" stroke-opacity="0.7" fill="none"/>
<ellipse cx="409" cy="66" rx="3.24" ry="2.59" fill="url(#lg2)" transform="rotate(0 409 66)"/>
<path d="M387.93,65.35 C389.08,67.90 396.14,65.19 398.07,61.65 C394.32,60.19 387.17,62.65 387.93,65.35Z" fill="url(#lg1)"/>
<path d="M468.24,68.74 C462.80,68.70 461.74,83.78 466.36,90.26 C472.03,84.68 473.61,69.64 468.24,68.74Z" fill="url(#lg1)"/>
<path d="M468.24,68.74L466.74,85.96" stroke="#b9e27a" stroke-width="0.5" stroke-opacity="0.7" fill="none"/>
<path d="M451.89,65.00 C451.73,61.55 446.29,61.71 444.11,65.00 C446.29,68.29 451.73,68.45 451.89,65.00Z" fill="url(#lg1)"/>
<path d="M451.89,65.00L445.67,65.00" stroke="#b9e27a" stroke-width="0.5" stroke-opacity="0.7" fill="none"/>
<path d="M455.91,62.78 C455.03,65.96 463.61,68.92 468.09,67.22 C465.75,63.03 457.28,59.78 455.91,62.78Z" fill="url(#lg4)"/>
<path d="M485.67,58.66 C490.91,55.91 486.50,47.12 479.73,45.94 C476.29,51.88 480.18,60.91 485.67,58.66Z" fill="url(#lg1)"/>
<path d="M485.67,58.66L480.92,48.48" stroke="#b9e27a" stroke-width="0.5" stroke-opacity="0.7" fill="none"/>
<path d="M488.92,55.72 C491.27,59.11 501.65,52.89 503.88,47.08 C497.73,46.11 487.16,51.99 488.92,55.72Z" fill="url(#lg1)"/>
<path d="M488.92,55.72L500.89,48.81" stroke="#b9e27a" stroke-width="0.5" stroke-opacity="0.7" fill="none"/>
<path d="M485.18,71.40 C484.87,61.04 473.83,61.53 469.42,71.40 C473.83,81.27 484.87,81.76 485.18,71.40Z" fill="url(#lg1)"/>
<path d="M485.18,71.40L472.57,71.40" stroke="#b9e27a" stroke-width="0.5" stroke-opacity="0.7" fill="none"/>
<path d="M495.14,68.30 C495.33,70.77 502.14,70.65 504.86,68.30 C502.14,65.95 495.33,65.83 495.14,68.30Z" fill="url(#lg1)"/>
<path d="M52.70,171.62 C58.62,171.45 58.34,165.40 52.70,162.98 C47.06,165.40 46.78,171.45 52.70,171.62Z" fill="url(#lg4)"/>
<path d="M52.70,171.62L52.70,164.71" stroke="#d6efa0" stroke-width="0.5" stroke-opacity="0.7" fill="none"/>
<path d="M58.90,169.69 C52.81,171.12 55.20,182.98 61.90,186.71 C66.92,180.91 65.11,168.95 58.90,169.69Z" fill="url(#lg1)"/>
<path d="M58.90,169.69L61.30,183.31" stroke="#b9e27a" stroke-width="0.5" stroke-opacity="0.7" fill="none"/>
<path d="M43.57,176.16 C44.57,172.85 38.12,170.68 34.43,172.84 C35.87,176.86 42.20,179.34 43.57,176.16Z" fill="url(#lg1)"/>
<path d="M43.57,176.16L36.26,173.50" stroke="#b9e27a" stroke-width="0.5" stroke-opacity="0.7" fill="none"/>
<path d="M49.91,168.78 C49.09,171.81 57.66,174.77 62.09,173.22 C59.70,169.18 51.22,165.94 49.91,168.78Z" fill="url(#lg1)"/>
<path d="M82.85,171.31 C89.43,171.54 90.17,159.46 84.35,154.09 C77.69,158.37 76.32,170.39 82.85,171.31Z" fill="url(#lg1)"/>
<path d="M82.85,171.31L84.05,157.54" stroke="#b9e27a" stroke-width="0.5" stroke-opacity="0.7" fill="none"/>
<path d="M74.07,171.24 C69.64,170.78 67.93,181.68 71.33,186.76 C76.26,183.15 78.39,172.32 74.07,171.24Z" fill="url(#lg1)"/>
<path d="M74.07,171.24L71.88,183.66" stroke="#b9e27a" stroke-width="0.5" stroke-opacity="0.7" fill="none"/>
<path d="M91.05,177.61 C94.03,177.52 94.94,165.46 92.55,160.39 C89.32,164.97 88.13,177.00 91.05,177.61Z" fill="url(#lg1)"/>
<ellipse cx="83.6" cy="174.5" rx="3.89" ry="3.89" fill="url(#lg1)" transform="rotate(0 83.6 174.5)"/>
<path d="M80.74,167.84 C79.36,165.79 74.18,168.92 73.26,172.16 C76.53,172.98 81.82,170.06 80.74,167.84Z" fill="url(#lg1)"/>
<path d="M112.49,169.00 C112.33,164.56 106.89,164.77 104.71,169.00 C106.89,173.23 112.33,173.44 112.49,169.00Z" fill="url(#lg1)"/>
<path d="M112.49,169.00L106.27,169.00" stroke="#b9e27a" stroke-width="0.5" stroke-opacity="0.7" fill="none"/>
<path d="M121.46,169.71 C116.15,170.85 117.58,177.50 123.14,179.29 C127.76,175.71 126.83,168.96 121.46,169.71Z" fill="url(#lg1)"/>
<path d="M121.46,169.71L122.81,177.37" stroke="#b9e27a" stroke-width="0.5" stroke-opacity="0.7" fill="none"/>
<path d="M104.00,175.04 C101.51,175.04 99.94,187.04 101.60,192.16 C104.60,187.69 106.40,175.73 104.00,175.04Z" fill="url(#lg1)"/>
<path d="M109.94,170.52 C109.26,172.90 114.98,174.86 118.06,173.48 C116.59,170.44 110.95,168.26 109.94,170.52Z" fill="url(#lg4)"/>
<path d="M152.12,164.54 C152.68,160.13 145.19,159.02 141.48,162.66 C143.73,167.35 151.13,168.87 152.12,164.54Z" fill="url(#lg1)"/>
<path d="M152.12,164.54L143.61,163.04" stroke="#b9e27a" stroke-width="0.5" stroke-opacity="0.7" fill="none"/>
<path d="M155.27,170.61 C161.06,173.73 164.19,167.68 160.13,162.19 C153.34,161.42 149.67,167.15 155.27,170.61Z" fill="url(#lg1)"/>
<path d="M155.27,170.61L159.16,163.87" stroke="#b9e27a" stroke-width="0.5" stroke-opacity="0.7" fill="none"/>
<path d="M156.37,170.44 C147.41,169.18 145.92,180.12 153.63,185.96 C162.88,183.11 165.22,172.32 156.37,170.44Z" fill="url(#lg1)"/>
<path d="M156.37,170.44L154.18,182.86" stroke="#b9e27a" stroke-width="0.5" stroke-opacity="0.7" fill="none"/>
<path d="M211.22,165.00 C210.07,161.56 202.81,163.69 200.78,167.80 C204.60,170.34 211.94,168.55 211.22,165.00Z" fill="url(#lg2)"/>
<path d="M211.22,165.00L202.87,167.24" stroke="#8fc95a" stroke-width="0.5" stroke-opacity="0.7" fill="none"/>
<path d="M212.75,165.37 C212.04,170.75 220.28,171.94 224.45,167.43 C222.07,161.76 213.93,160.07 212.75,165.37Z" fill="url(#lg2)"/>
<path d="M212.75,165.37L222.11,167.02" stroke="#8fc95a" stroke-width="0.5" stroke-opacity="0.7" fill="none"/>
<path d="M214.56,172.23 C213.65,168.89 202.81,170.96 199.04,174.97 C203.95,177.44 214.85,175.69 214.56,172.23Z" fill="url(#lg2)"/>
<path d="M214.56,172.23L202.14,174.42" stroke="#8fc95a" stroke-width="0.5" stroke-opacity="0.7" fill="none"/>
<path d="M202.64,177.44 C198.18,177.48 197.07,192.57 200.76,198.96 C205.50,193.30 207.03,178.26 202.64,177.44Z" fill="url(#lg2)"/>
<path d="M202.64,177.44L201.14,194.66" stroke="#8fc95a" stroke-width="0.5" stroke-opacity="0.7" fill="none"/>
<path d="M221.96,171.38 C217.75,172.84 220.81,183.45 226.04,186.62 C228.98,181.26 226.33,170.54 221.96,171.38Z" fill="url(#lg2)"/>
<path d="M221.96,171.38L225.22,183.57" stroke="#8fc95a" stroke-width="0.5" stroke-opacity="0.7" fill="none"/>
<path d="M244.54,169.00 C244.30,159.96 235.99,160.39 232.66,169.00 C235.99,177.61 244.30,178.04 244.54,169.00Z" fill="url(#lg2)"/>
<path d="M244.54,169.00L235.04,169.00" stroke="#8fc95a" stroke-width="0.5" stroke-opacity="0.7" fill="none"/>
<path d="M244.71,163.60 C244.87,167.22 250.31,167.05 252.49,163.60 C250.31,160.15 244.87,159.98 244.71,163.60Z" fill="url(#lg2)"/>
<path d="M244.71,163.60L250.93,163.60" stroke="#8fc95a" stroke-width="0.5" stroke-opacity="0.7" fill="none"/>
<path d="M251.48,175.18 C244.10,171.51 235.37,187.42 238.52,197.62 C248.93,195.25 258.34,179.74 251.48,175.18Z" fill="url(#lg2)"/>
<path d="M251.48,175.18L241.11,193.13" stroke="#8fc95a" stroke-width="0.5" stroke-opacity="0.7" fill="none"/>
<path d="M233.74,172.16 C234.82,169.94 229.53,167.02 226.26,167.84 C227.18,171.08 232.36,174.21 233.74,172.16Z" fill="url(#lg2)"/>
<path d="M272.88,151.50 C272.57,147.88 261.53,148.05 257.12,151.50 C261.53,154.95 272.57,155.12 272.88,151.50Z" fill="url(#lg1)"/>
<path d="M272.88,151.50L260.27,151.50" stroke="#b9e27a" stroke-width="0.5" stroke-opacity="0.7" fill="none"/>
<path d="M265.49,160.20 C266.91,166.63 276.38,164.64 279.11,157.80 C274.21,152.30 264.62,153.67 265.49,160.20Z" fill="url(#lg1)"/>
<path d="M265.49,160.20L276.38,158.28" stroke="#b9e27a" stroke-width="0.5" stroke-opacity="0.7" fill="none"/>
<path d="M280.85,178.57 C277.22,178.46 275.49,191.96 278.15,197.83 C282.32,192.91 284.38,179.46 280.85,178.57Z" fill="url(#lg2)"/>
<path d="M280.85,178.57L278.69,193.98" stroke="#8fc95a" stroke-width="0.5" stroke-opacity="0.7" fill="none"/>
<ellipse cx="264" cy="175.5" rx="2.38" ry="2.38" fill="url(#lg1)" transform="rotate(0 264 175.5)"/>
<path d="M274.00,173.32 C276.47,173.15 276.35,167.10 274.00,164.68 C271.65,167.10 271.53,173.15 274.00,173.32Z" fill="url(#lg1)"/>
<path d="M294.45,154.81 C294.37,159.26 305.39,160.01 310.15,156.19 C306.12,151.59 295.15,150.42 294.45,154.81Z" fill="url(#lg2)"/>
<path d="M294.45,154.81L307.01,155.91" stroke="#8fc95a" stroke-width="0.5" stroke-opacity="0.7" fill="none"/>
<path d="M295.66,170.97 C299.00,169.55 296.51,163.21 292.34,161.83 C290.03,165.57 292.20,172.02 295.66,170.97Z" fill="url(#lg2)"/>
<path d="M295.66,170.97L293.00,163.66" stroke="#8fc95a" stroke-width="0.5" stroke-opacity="0.7" fill="none"/>
<path d="M316.10,176.71 C313.13,176.73 312.43,186.38 314.90,190.49 C318.04,186.88 319.03,177.25 316.10,176.71Z" fill="url(#lg2)"/>
<path d="M282.19,176.83 C278.56,176.58 276.36,190.01 278.81,195.97 C283.15,191.21 285.68,177.84 282.19,176.83Z" fill="url(#lg2)"/>
<path d="M282.19,176.83L279.49,192.14" stroke="#8fc95a" stroke-width="0.5" stroke-opacity="0.7" fill="none"/>
<path d="M280.10,178.43 C281.81,180.22 285.78,176.73 285.90,173.57 C282.76,173.13 278.63,176.44 280.10,178.43Z" fill="url(#lg2)"/>
<path d="M305.80,171.36 C309.16,179.77 318.10,176.05 318.80,166.64 C312.21,159.87 302.97,162.77 305.80,171.36Z" fill="url(#lg2)"/>
<path d="M305.80,171.36L316.20,167.58" stroke="#8fc95a" stroke-width="0.5" stroke-opacity="0.7" fill="none"/>
<path d="M327.36,161.00 C327.71,172.51 339.80,171.96 344.64,161.00 C339.80,150.04 327.71,149.49 327.36,161.00Z" fill="url(#lg2)"/>
<path d="M327.36,161.00L341.18,161.00" stroke="#8fc95a" stroke-width="0.5" stroke-opacity="0.7" fill="none"/>
<path d="M333.59,179.00 C333.86,189.52 343.54,189.02 347.41,179.00 C343.54,168.98 333.86,168.48 333.59,179.00Z" fill="url(#lg2)"/>
<path d="M333.59,179.00L344.65,179.00" stroke="#8fc95a" stroke-width="0.5" stroke-opacity="0.7" fill="none"/>
<path d="M330.65,179.83 C332.74,178.47 327.52,167.56 323.35,164.17 C323.26,169.55 328.27,180.56 330.65,179.83Z" fill="url(#lg1)"/>
<path d="M392.66,168.92 C397.07,169.48 398.18,161.99 394.54,158.28 C389.85,160.53 388.33,167.93 392.66,168.92Z" fill="url(#lg1)"/>
<path d="M392.66,168.92L394.16,160.41" stroke="#b9e27a" stroke-width="0.5" stroke-opacity="0.7" fill="none"/>
<path d="M396.40,174.64 C389.00,174.89 389.35,183.66 396.40,187.16 C403.45,183.66 403.80,174.89 396.40,174.64Z" fill="url(#lg1)"/>
<path d="M396.40,174.64L396.40,184.66" stroke="#b9e27a" stroke-width="0.5" stroke-opacity="0.7" fill="none"/>
<path d="M392.32,175.50 C392.15,173.03 386.10,173.15 383.68,175.50 C386.10,177.85 392.15,177.97 392.32,175.50Z" fill="url(#lg2)"/>
<path d="M424.06,171.80 C424.41,178.38 436.50,178.06 441.34,171.80 C436.50,165.54 424.41,165.22 424.06,171.80Z" fill="url(#lg1)"/>
<path d="M424.06,171.80L437.88,171.80" stroke="#b9e27a" stroke-width="0.5" stroke-opacity="0.7" fill="none"/>
<path d="M432.32,169.00 C432.15,164.07 426.10,164.30 423.68,169.00 C426.10,173.70 432.15,173.93 432.32,169.00Z" fill="url(#lg2)"/>
<path d="M432.32,169.00L425.41,169.00" stroke="#8fc95a" stroke-width="0.5" stroke-opacity="0.7" fill="none"/>
<path d="M432.70,179.92 C428.26,180.40 428.47,197.03 432.70,203.68 C436.93,197.03 437.14,180.40 432.70,179.92Z" fill="url(#lg1)"/>
<path d="M432.70,179.92L432.70,198.93" stroke="#b9e27a" stroke-width="0.5" stroke-opacity="0.7" fill="none"/>
<path d="M443.13,176.74 C438.81,177.82 440.94,188.65 445.87,192.26 C449.27,187.18 447.56,176.28 443.13,176.74Z" fill="url(#lg1)"/>
<path d="M443.13,176.74L445.32,189.16" stroke="#b9e27a" stroke-width="0.5" stroke-opacity="0.7" fill="none"/>
<path d="M423.70,176.00 C423.59,173.53 419.81,173.65 418.30,176.00 C419.81,178.35 423.59,178.47 423.70,176.00Z" fill="url(#lg1)"/>
<path d="M462.20,171.26 C465.82,171.07 465.65,164.26 462.20,161.54 C458.75,164.26 458.58,171.07 462.20,171.26Z" fill="url(#lg1)"/>
<path d="M462.20,171.26L462.20,163.48" stroke="#b9e27a" stroke-width="0.5" stroke-opacity="0.7" fill="none"/>
<path d="M464.50,171.00 C457.59,171.22 457.92,178.78 464.50,181.80 C471.08,178.78 471.41,171.22 464.50,171.00Z" fill="url(#lg1)"/>
<path d="M464.50,171.00L464.50,179.64" stroke="#b9e27a" stroke-width="0.5" stroke-opacity="0.7" fill="none"/>
<path d="M451.00,173.76 C449.03,173.89 449.12,178.43 451.00,180.24 C452.88,178.43 452.97,173.89 451.00,173.76Z" fill="url(#lg1)"/>
<path d="M491.39,163.00 C493.09,171.05 502.55,168.98 505.01,160.60 C499.84,153.56 490.24,154.86 491.39,163.00Z" fill="url(#lg1)"/>
<path d="M491.39,163.00L502.28,161.08" stroke="#b9e27a" stroke-width="0.5" stroke-opacity="0.7" fill="none"/>
<path d="M506.66,181.33 C502.15,187.20 510.83,194.03 518.74,191.47 C519.89,183.23 511.66,175.87 506.66,181.33Z" fill="url(#lg1)"/>
<path d="M506.66,181.33L516.32,189.44" stroke="#b9e27a" stroke-width="0.5" stroke-opacity="0.7" fill="none"/>
<ellipse cx="514.5" cy="194.5" rx="2.38" ry="2.38" fill="url(#lg1)" transform="rotate(0 514.5 194.5)"/>
<path d="M496.74,176.32 C496.48,178.30 505.27,180.55 509.26,179.68 C506.24,176.92 497.50,174.48 496.74,176.32Z" fill="url(#lg2)"/>
</g>
<rect x="231" y="27.8" width="43.4" height="77" fill="none" stroke="#f6ccc7" stroke-width="1.6"/>
<rect x="89.1" y="127.7" width="43.6" height="77.2" fill="none" stroke="#fdebe7" stroke-width="1.5"/>
<text x="248.3" y="125.3" class="sans" font-size="16" fill="#f8e0dd" stroke="#f8e0dd" stroke-width="0.3" text-anchor="middle" textLength="15.6" lengthAdjust="spacingAndGlyphs">J7</text>
<text x="111.8" y="226.6" class="sans" font-size="16" fill="#fbefed" stroke="#fbefed" stroke-width="0.3" text-anchor="middle" textLength="24.6" lengthAdjust="spacingAndGlyphs">S16</text>
<text x="0" y="0" class="pl" fill="#ffffff" transform="translate(19.4 26.2) scale(0.72 1)">a</text>
</g>
<g id="panel-b">
<rect x="62.6" y="271.8" width="152.7" height="234.7" fill="#ededed" stroke="#4a4a4a" stroke-width="0.8"/>
<line x1="91.6" y1="272.3" x2="91.6" y2="506.0" stroke="#fbfbfb" stroke-width="1" stroke-dasharray="2 1.2"/>
<line x1="91.6" y1="272.3" x2="91.6" y2="506.0" stroke="#d2d2d2" stroke-width="0.35" stroke-dasharray="1.2 2"/>
<line x1="120.6" y1="272.3" x2="120.6" y2="506.0" stroke="#fbfbfb" stroke-width="1" stroke-dasharray="2 1.2"/>
<line x1="120.6" y1="272.3" x2="120.6" y2="506.0" stroke="#d2d2d2" stroke-width="0.35" stroke-dasharray="1.2 2"/>
<line x1="149.6" y1="272.3" x2="149.6" y2="506.0" stroke="#fbfbfb" stroke-width="1" stroke-dasharray="2 1.2"/>
<line x1="149.6" y1="272.3" x2="149.6" y2="506.0" stroke="#d2d2d2" stroke-width="0.35" stroke-dasharray="1.2 2"/>
<line x1="178.6" y1="272.3" x2="178.6" y2="506.0" stroke="#fbfbfb" stroke-width="1" stroke-dasharray="2 1.2"/>
<line x1="178.6" y1="272.3" x2="178.6" y2="506.0" stroke="#d2d2d2" stroke-width="0.35" stroke-dasharray="1.2 2"/>
<line x1="207.6" y1="272.3" x2="207.6" y2="506.0" stroke="#fbfbfb" stroke-width="1" stroke-dasharray="2 1.2"/>
<line x1="207.6" y1="272.3" x2="207.6" y2="506.0" stroke="#d2d2d2" stroke-width="0.35" stroke-dasharray="1.2 2"/>
<line x1="62.6" y1="269.2" x2="62.6" y2="271.8" stroke="#555" stroke-width="0.6"/>
<text x="62.6" y="267.6" class="sans" font-size="5.4" fill="#333" text-anchor="middle">0</text>
<line x1="91.6" y1="269.2" x2="91.6" y2="271.8" stroke="#555" stroke-width="0.6"/>
<text x="91.6" y="267.6" class="sans" font-size="5.4" fill="#333" text-anchor="middle">5</text>
<line x1="120.6" y1="269.2" x2="120.6" y2="271.8" stroke="#555" stroke-width="0.6"/>
<text x="120.6" y="267.6" class="sans" font-size="5.4" fill="#333" text-anchor="middle">10</text>
<line x1="149.6" y1="269.2" x2="149.6" y2="271.8" stroke="#555" stroke-width="0.6"/>
<text x="149.6" y="267.6" class="sans" font-size="5.4" fill="#333" text-anchor="middle">15</text>
<line x1="178.6" y1="269.2" x2="178.6" y2="271.8" stroke="#555" stroke-width="0.6"/>
<text x="178.6" y="267.6" class="sans" font-size="5.4" fill="#333" text-anchor="middle">20</text>
<line x1="207.6" y1="269.2" x2="207.6" y2="271.8" stroke="#555" stroke-width="0.6"/>
<text x="207.6" y="267.6" class="sans" font-size="5.4" fill="#333" text-anchor="middle">25</text>
<line x1="120.6" y1="271.8" x2="120.6" y2="506.5" stroke="#f0262c" stroke-width="1.5"/>
<path d="M62.6,275.6L68.4,275.6M62.6,284.8L68.4,284.8M62.6,294.0L68.4,294.0M62.6,303.2L68.4,303.2M62.6,312.3L68.4,312.3M62.6,321.5L68.4,321.5M62.6,330.7L68.4,330.7M68.4,275.6L68.4,330.7M62.6,339.9L68.4,339.9M62.6,349.1L68.4,349.1M62.6,358.3L68.4,358.3M62.6,367.4L68.4,367.4M62.6,376.6L68.4,376.6M62.6,385.8L68.4,385.8M62.6,395.0L68.4,395.0M62.6,404.2L68.4,404.2M62.6,413.4L68.4,413.4M68.4,339.9L68.4,413.4M62.6,422.5L68.4,422.5M62.6,431.7L68.4,431.7M62.6,440.9L68.4,440.9M68.4,422.5L68.4,440.9M62.6,459.3L68.4,459.3M62.6,468.5L68.4,468.5M62.6,477.6L68.4,477.6M62.6,486.8L68.4,486.8M62.6,496.0L68.4,496.0M68.4,459.3L68.4,496.0M68.4,312.3L80.0,312.3M68.4,376.6L80.0,376.6M80.0,312.3L80.0,376.6M80.0,339.2L132.2,339.2M68.4,431.7L74.2,431.7M62.6,450.1L74.2,450.1M74.2,431.7L74.2,450.1M74.2,440.9L132.2,440.9M132.2,339.2L132.2,440.9M132.2,385.6L207.6,385.6M68.4,486.8L97.4,486.8M62.6,505.2L97.4,505.2M97.4,486.8L97.4,505.2M97.4,496.0L207.6,496.0M207.6,385.6L207.6,496.0" fill="none" stroke="#2b2b2b" stroke-width="0.75" stroke-linecap="square"/>
<text x="61.3" y="277.5" class="sans" font-size="5.3" fill="#333" text-anchor="end">2</text>
<text x="61.3" y="286.7" class="sans" font-size="5.3" fill="#333" text-anchor="end">13</text>
<text x="61.3" y="295.9" class="sans" font-size="5.3" fill="#333" text-anchor="end">12</text>
<text x="61.3" y="305.1" class="sans" font-size="5.3" fill="#333" text-anchor="end">20</text>
<text x="61.3" y="314.2" class="sans" font-size="5.3" fill="#333" text-anchor="end">10</text>
<text x="61.3" y="323.4" class="sans" font-size="5.3" fill="#333" text-anchor="end">23</text>
<text x="61.3" y="332.6" class="sans" font-size="5.3" fill="#333" text-anchor="end">4</text>
<text x="61.3" y="341.8" class="sans" font-size="5.3" fill="#333" text-anchor="end">18</text>
<text x="61.3" y="351.0" class="sans" font-size="5.3" fill="#333" text-anchor="end">24</text>
<text x="61.3" y="360.2" class="sans" font-size="5.3" fill="#333" text-anchor="end">19</text>
<text x="61.3" y="369.3" class="sans" font-size="5.3" fill="#333" text-anchor="end">14</text>
<text x="61.3" y="378.5" class="sans" font-size="5.3" fill="#333" text-anchor="end">22</text>
<text x="61.3" y="387.7" class="sans" font-size="5.3" fill="#333" text-anchor="end">9</text>
<text x="61.3" y="396.9" class="sans" font-size="5.3" fill="#333" text-anchor="end">17</text>
<text x="61.3" y="406.1" class="sans" font-size="5.3" fill="#333" text-anchor="end">1</text>
<text x="61.3" y="415.3" class="sans" font-size="5.3" fill="#333" text-anchor="end">11</text>
<text x="61.3" y="424.4" class="sans" font-size="5.3" fill="#333" text-anchor="end">3</text>
<text x="61.3" y="433.6" class="sans" font-size="5.3" fill="#333" text-anchor="end">6</text>
<text x="61.3" y="442.8" class="sans" font-size="5.3" fill="#333" text-anchor="end">7</text>
<text x="61.3" y="452.0" class="sans" font-size="5.3" fill="#333" text-anchor="end">5</text>
<text x="61.3" y="461.2" class="sans" font-size="5.3" fill="#333" text-anchor="end">8</text>
<text x="61.3" y="470.4" class="sans" font-size="5.3" fill="#333" text-anchor="end">15</text>
<text x="61.3" y="479.5" class="sans" font-size="5.3" fill="#333" text-anchor="end">26</text>
<text x="61.3" y="488.7" class="sans" font-size="5.3" fill="#333" text-anchor="end">16</text>
<text x="61.3" y="497.9" class="sans" font-size="5.3" fill="#333" text-anchor="end">25</text>
<text x="61.3" y="507.1" class="sans" font-size="5.3" fill="#333" text-anchor="end">21</text>
<text x="137.5" y="259.2" class="sans" font-size="11" fill="#111" text-anchor="middle" textLength="103" lengthAdjust="spacingAndGlyphs">Clustering coefficient</text>
<text x="0" y="0" class="sans" font-size="10.6" fill="#111" text-anchor="middle" textLength="142.5" lengthAdjust="spacingAndGlyphs" transform="translate(52.2 398.7) rotate(-90)">Different varieties of Pakchoi</text>
<text x="0" y="0" class="pl" fill="#000" transform="translate(19.4 265.3) scale(0.72 1)">b</text>
</g>
<g id="panel-c">
<path d="M390.8,402.3L390.8,319.0M390.8,402.3L410.7,321.4M390.8,402.3L429.5,328.5M390.8,402.3L446.0,339.9M390.8,402.3L459.4,355.0M390.8,402.3L468.7,372.8M390.8,402.3L473.5,392.3M390.8,402.3L473.5,412.3M390.8,402.3L468.7,431.8M390.8,402.3L459.4,449.6M390.8,402.3L446.0,464.7M390.8,402.3L429.5,476.1M390.8,402.3L410.7,483.2M390.8,402.3L390.8,485.6M390.8,402.3L370.9,483.2M390.8,402.3L352.1,476.1M390.8,402.3L335.6,464.7M390.8,402.3L322.2,449.6M390.8,402.3L312.9,431.8M390.8,402.3L308.1,412.3M390.8,402.3L308.1,392.3M390.8,402.3L312.9,372.8M390.8,402.3L322.2,355.0M390.8,402.3L335.6,339.9M390.8,402.3L352.1,328.5M390.8,402.3L370.9,321.4" fill="none" stroke="#b4b4b4" stroke-width="0.6"/>
<polygon points="390.8,319.0 410.7,321.4 429.5,328.5 446.0,339.9 459.4,355.0 468.7,372.8 473.5,392.3 473.5,412.3 468.7,431.8 459.4,449.6 446.0,464.7 429.5,476.1 410.7,483.2 390.8,485.6 370.9,483.2 352.1,476.1 335.6,464.7 322.2,449.6 312.9,431.8 308.1,412.3 308.1,392.3 312.9,372.8 322.2,355.0 335.6,339.9 352.1,328.5 370.9,321.4" fill="none" stroke="#b4b4b4" stroke-width="0.7"/>
<polygon points="390.8,344.5 405.6,342.1 426.1,335.0 417.3,372.4 452.3,359.9 463.7,374.6 469.2,392.8 445.1,408.9 453.4,426.1 447.9,441.7 440.1,457.9 421.7,461.2 406.0,463.9 390.8,463.3 378.6,451.8 370.6,440.7 344.8,454.2 333.6,441.8 330.3,425.2 327.5,410.0 342.8,396.5 332.0,380.0 341.4,368.2 344.6,350.1 367.4,357.8 379.4,356.2" fill="none" stroke="#18a566" stroke-width="1.5" stroke-linejoin="round"/>
<polygon points="390.8,372.8 398.9,369.3 409.1,367.5 412.2,378.1 425.0,378.7 430.1,387.4 435.2,396.9 420.6,405.9 425.0,415.3 417.6,420.8 414.5,429.1 405.7,430.6 398.0,431.4 390.8,433.3 384.0,429.8 378.5,425.8 371.4,424.2 364.5,420.5 361.8,413.3 358.2,406.3 361.4,398.7 360.5,390.8 364.0,383.8 368.7,377.4 377.9,377.8 384.3,376.1" fill="none" stroke="#1f7be0" stroke-width="1.5" stroke-linejoin="round"/>
<polygon points="390.8,374.8 397.2,376.3 404.5,376.3 408.1,382.8 415.3,385.4 419.2,391.5 420.9,398.6 420.0,405.8 417.0,412.2 414.7,418.8 410.2,424.2 404.6,428.5 397.8,430.7 390.8,431.3 385.1,425.6 380.3,422.2 374.9,420.3 369.1,417.3 363.2,412.8 362.5,405.7 365.3,399.2 363.8,392.1 368.3,386.8 373.5,382.8 379.4,380.6 384.6,377.3" fill="none" stroke="#f0343a" stroke-width="1.2" stroke-linejoin="round"/>
<polygon points="390.8,393.3 392.7,394.5 395.4,393.4 402.6,389.0 410.6,388.7 417.9,392.0 422.4,398.5 401.7,403.6 410.0,409.6 405.4,412.4 399.4,412.0 398.2,416.5 393.0,411.0 390.8,410.3 388.4,412.0 386.6,410.3 377.0,417.9 379.3,410.3 382.4,405.5 380.9,403.5 379.9,401.0 382.4,399.1 382.6,396.6 382.2,392.6 387.1,395.2 388.6,393.6" fill="none" stroke="#b872e6" stroke-width="1.3" stroke-linejoin="round"/>
<polygon points="390.8,392.3 395.6,382.9 394.5,395.2 394.8,397.8 397.4,397.8 396.4,400.2 398.7,401.3 400.7,403.5 402.0,406.6 408.9,414.8 409.7,423.6 401.0,421.8 393.2,412.0 390.8,414.3 380.6,443.6 370.7,440.6 378.9,415.8 374.3,413.7 379.6,406.6 376.9,404.0 361.0,398.7 379.6,398.0 378.5,393.8 374.2,383.6 380.6,382.8 380.9,362.0" fill="none" stroke="#e8a212" stroke-width="1.5" stroke-linejoin="round"/>
<circle cx="390.8" cy="344.5" r="0.55" fill="#222"/><circle cx="405.6" cy="342.1" r="0.55" fill="#222"/><circle cx="426.1" cy="335.0" r="0.55" fill="#222"/><circle cx="417.3" cy="372.4" r="0.55" fill="#222"/><circle cx="452.3" cy="359.9" r="0.55" fill="#222"/><circle cx="463.7" cy="374.6" r="0.55" fill="#222"/><circle cx="469.2" cy="392.8" r="0.55" fill="#222"/><circle cx="445.1" cy="408.9" r="0.55" fill="#222"/><circle cx="453.4" cy="426.1" r="0.55" fill="#222"/><circle cx="447.9" cy="441.7" r="0.55" fill="#222"/><circle cx="440.1" cy="457.9" r="0.55" fill="#222"/><circle cx="421.7" cy="461.2" r="0.55" fill="#222"/><circle cx="406.0" cy="463.9" r="0.55" fill="#222"/><circle cx="390.8" cy="463.3" r="0.55" fill="#222"/><circle cx="378.6" cy="451.8" r="0.55" fill="#222"/><circle cx="370.6" cy="440.7" r="0.55" fill="#222"/><circle cx="344.8" cy="454.2" r="0.55" fill="#222"/><circle cx="333.6" cy="441.8" r="0.55" fill="#222"/><circle cx="330.3" cy="425.2" r="0.55" fill="#222"/><circle cx="327.5" cy="410.0" r="0.55" fill="#222"/><circle cx="342.8" cy="396.5" r="0.55" fill="#222"/><circle cx="332.0" cy="380.0" r="0.55" fill="#222"/><circle cx="341.4" cy="368.2" r="0.55" fill="#222"/><circle cx="344.6" cy="350.1" r="0.55" fill="#222"/><circle cx="367.4" cy="357.8" r="0.55" fill="#222"/><circle cx="379.4" cy="356.2" r="0.55" fill="#222"/><circle cx="390.8" cy="372.8" r="0.55" fill="#222"/><circle cx="398.9" cy="369.3" r="0.55" fill="#222"/><circle cx="409.1" cy="367.5" r="0.55" fill="#222"/><circle cx="412.2" cy="378.1" r="0.55" fill="#222"/><circle cx="425.0" cy="378.7" r="0.55" fill="#222"/><circle cx="430.1" cy="387.4" r="0.55" fill="#222"/><circle cx="435.2" cy="396.9" r="0.55" fill="#222"/><circle cx="420.6" cy="405.9" r="0.55" fill="#222"/><circle cx="425.0" cy="415.3" r="0.55" fill="#222"/><circle cx="417.6" cy="420.8" r="0.55" fill="#222"/><circle cx="414.5" cy="429.1" r="0.55" fill="#222"/><circle cx="405.7" cy="430.6" r="0.55" fill="#222"/><circle cx="398.0" cy="431.4" r="0.55" fill="#222"/><circle cx="390.8" cy="433.3" r="0.55" fill="#222"/><circle cx="384.0" cy="429.8" r="0.55" fill="#222"/><circle cx="378.5" cy="425.8" r="0.55" fill="#222"/><circle cx="371.4" cy="424.2" r="0.55" fill="#222"/><circle cx="364.5" cy="420.5" r="0.55" fill="#222"/><circle cx="361.8" cy="413.3" r="0.55" fill="#222"/><circle cx="358.2" cy="406.3" r="0.55" fill="#222"/><circle cx="361.4" cy="398.7" r="0.55" fill="#222"/><circle cx="360.5" cy="390.8" r="0.55" fill="#222"/><circle cx="364.0" cy="383.8" r="0.55" fill="#222"/><circle cx="368.7" cy="377.4" r="0.55" fill="#222"/><circle cx="377.9" cy="377.8" r="0.55" fill="#222"/><circle cx="384.3" cy="376.1" r="0.55" fill="#222"/><circle cx="390.8" cy="374.8" r="0.55" fill="#222"/><circle cx="397.2" cy="376.3" r="0.55" fill="#222"/><circle cx="404.5" cy="376.3" r="0.55" fill="#222"/><circle cx="408.1" cy="382.8" r="0.55" fill="#222"/><circle cx="415.3" cy="385.4" r="0.55" fill="#222"/><circle cx="419.2" cy="391.5" r="0.55" fill="#222"/><circle cx="420.9" cy="398.6" r="0.55" fill="#222"/><circle cx="420.0" cy="405.8" r="0.55" fill="#222"/><circle cx="417.0" cy="412.2" r="0.55" fill="#222"/><circle cx="414.7" cy="418.8" r="0.55" fill="#222"/><circle cx="410.2" cy="424.2" r="0.55" fill="#222"/><circle cx="404.6" cy="428.5" r="0.55" fill="#222"/><circle cx="397.8" cy="430.7" r="0.55" fill="#222"/><circle cx="390.8" cy="431.3" r="0.55" fill="#222"/><circle cx="385.1" cy="425.6" r="0.55" fill="#222"/><circle cx="380.3" cy="422.2" r="0.55" fill="#222"/><circle cx="374.9" cy="420.3" r="0.55" fill="#222"/><circle cx="369.1" cy="417.3" r="0.55" fill="#222"/><circle cx="363.2" cy="412.8" r="0.55" fill="#222"/><circle cx="362.5" cy="405.7" r="0.55" fill="#222"/><circle cx="365.3" cy="399.2" r="0.55" fill="#222"/><circle cx="363.8" cy="392.1" r="0.55" fill="#222"/><circle cx="368.3" cy="386.8" r="0.55" fill="#222"/><circle cx="373.5" cy="382.8" r="0.55" fill="#222"/><circle cx="379.4" cy="380.6" r="0.55" fill="#222"/><circle cx="384.6" cy="377.3" r="0.55" fill="#222"/><circle cx="390.8" cy="393.3" r="0.55" fill="#222"/><circle cx="392.7" cy="394.5" r="0.55" fill="#222"/><circle cx="395.4" cy="393.4" r="0.55" fill="#222"/><circle cx="402.6" cy="389.0" r="0.55" fill="#222"/><circle cx="410.6" cy="388.7" r="0.55" fill="#222"/><circle cx="417.9" cy="392.0" r="0.55" fill="#222"/><circle cx="422.4" cy="398.5" r="0.55" fill="#222"/><circle cx="401.7" cy="403.6" r="0.55" fill="#222"/><circle cx="410.0" cy="409.6" r="0.55" fill="#222"/><circle cx="405.4" cy="412.4" r="0.55" fill="#222"/><circle cx="399.4" cy="412.0" r="0.55" fill="#222"/><circle cx="398.2" cy="416.5" r="0.55" fill="#222"/><circle cx="393.0" cy="411.0" r="0.55" fill="#222"/><circle cx="390.8" cy="410.3" r="0.55" fill="#222"/><circle cx="388.4" cy="412.0" r="0.55" fill="#222"/><circle cx="386.6" cy="410.3" r="0.55" fill="#222"/><circle cx="377.0" cy="417.9" r="0.55" fill="#222"/><circle cx="379.3" cy="410.3" r="0.55" fill="#222"/><circle cx="382.4" cy="405.5" r="0.55" fill="#222"/><circle cx="380.9" cy="403.5" r="0.55" fill="#222"/><circle cx="379.9" cy="401.0" r="0.55" fill="#222"/><circle cx="382.4" cy="399.1" r="0.55" fill="#222"/><circle cx="382.6" cy="396.6" r="0.55" fill="#222"/><circle cx="382.2" cy="392.6" r="0.55" fill="#222"/><circle cx="387.1" cy="395.2" r="0.55" fill="#222"/><circle cx="388.6" cy="393.6" r="0.55" fill="#222"/><circle cx="390.8" cy="392.3" r="0.55" fill="#222"/><circle cx="395.6" cy="382.9" r="0.55" fill="#222"/><circle cx="394.5" cy="395.2" r="0.55" fill="#222"/><circle cx="394.8" cy="397.8" r="0.55" fill="#222"/><circle cx="397.4" cy="397.8" r="0.55" fill="#222"/><circle cx="396.4" cy="400.2" r="0.55" fill="#222"/><circle cx="398.7" cy="401.3" r="0.55" fill="#222"/><circle cx="400.7" cy="403.5" r="0.55" fill="#222"/><circle cx="402.0" cy="406.6" r="0.55" fill="#222"/><circle cx="408.9" cy="414.8" r="0.55" fill="#222"/><circle cx="409.7" cy="423.6" r="0.55" fill="#222"/><circle cx="401.0" cy="421.8" r="0.55" fill="#222"/><circle cx="393.2" cy="412.0" r="0.55" fill="#222"/><circle cx="390.8" cy="414.3" r="0.55" fill="#222"/><circle cx="380.6" cy="443.6" r="0.55" fill="#222"/><circle cx="370.7" cy="440.6" r="0.55" fill="#222"/><circle cx="378.9" cy="415.8" r="0.55" fill="#222"/><circle cx="374.3" cy="413.7" r="0.55" fill="#222"/><circle cx="379.6" cy="406.6" r="0.55" fill="#222"/><circle cx="376.9" cy="404.0" r="0.55" fill="#222"/><circle cx="361.0" cy="398.7" r="0.55" fill="#222"/><circle cx="379.6" cy="398.0" r="0.55" fill="#222"/><circle cx="378.5" cy="393.8" r="0.55" fill="#222"/><circle cx="374.2" cy="383.6" r="0.55" fill="#222"/><circle cx="380.6" cy="382.8" r="0.55" fill="#222"/><circle cx="380.9" cy="362.0" r="0.55" fill="#222"/>
<text x="0" y="0" class="sans" font-size="9" font-weight="bold" fill="#111" text-anchor="middle" transform="translate(390.8 310.0) scale(0.9 1)">C1</text>
<text x="0" y="0" class="sans" font-size="9" font-weight="bold" fill="#111" text-anchor="middle" transform="translate(413.9 311.8) scale(0.9 1)">C2</text>
<text x="0" y="0" class="sans" font-size="9" font-weight="bold" fill="#111" text-anchor="middle" transform="translate(436.0 319.3) scale(0.9 1)">C3</text>
<text x="0" y="0" class="sans" font-size="9" font-weight="bold" fill="#111" text-anchor="middle" transform="translate(455.3 332.7) scale(0.9 1)">C4</text>
<text x="0" y="0" class="sans" font-size="9" font-weight="bold" fill="#111" text-anchor="middle" transform="translate(470.9 350.2) scale(0.9 1)">C5</text>
<text x="0" y="0" class="sans" font-size="9" font-weight="bold" fill="#111" text-anchor="middle" transform="translate(481.8 371.0) scale(0.9 1)">C6</text>
<text x="0" y="0" class="sans" font-size="9" font-weight="bold" fill="#111" text-anchor="middle" transform="translate(487.4 393.8) scale(0.9 1)">C7</text>
<text x="0" y="0" class="sans" font-size="9" font-weight="bold" fill="#111" text-anchor="middle" transform="translate(487.5 417.2) scale(0.9 1)">C8</text>
<text x="0" y="0" class="sans" font-size="9" font-weight="bold" fill="#111" text-anchor="middle" transform="translate(482.2 440.2) scale(0.9 1)">C9</text>
<text x="0" y="0" class="sans" font-size="9" font-weight="bold" fill="#111" text-anchor="middle" transform="translate(473.6 462.6) scale(0.9 1)">C10</text>
<text x="0" y="0" class="sans" font-size="9" font-weight="bold" fill="#111" text-anchor="middle" transform="translate(457.6 480.9) scale(0.9 1)">C11</text>
<text x="0" y="0" class="sans" font-size="9" font-weight="bold" fill="#111" text-anchor="middle" transform="translate(437.7 494.9) scale(0.9 1)">C12</text>
<text x="0" y="0" class="sans" font-size="9" font-weight="bold" fill="#111" text-anchor="middle" transform="translate(414.5 501.6) scale(0.9 1)">C13</text>
<text x="0" y="0" class="sans" font-size="9" font-weight="bold" fill="#111" text-anchor="middle" transform="translate(390.8 502.2) scale(0.9 1)">C14</text>
<text x="0" y="0" class="sans" font-size="9" font-weight="bold" fill="#111" text-anchor="middle" transform="translate(367.1 501.6) scale(0.9 1)">C15</text>
<text x="0" y="0" class="sans" font-size="9" font-weight="bold" fill="#111" text-anchor="middle" transform="translate(343.9 494.9) scale(0.9 1)">C16</text>
<text x="0" y="0" class="sans" font-size="9" font-weight="bold" fill="#111" text-anchor="middle" transform="translate(324.0 480.9) scale(0.9 1)">C17</text>
<text x="0" y="0" class="sans" font-size="9" font-weight="bold" fill="#111" text-anchor="middle" transform="translate(308.0 462.6) scale(0.9 1)">C18</text>
<text x="0" y="0" class="sans" font-size="9" font-weight="bold" fill="#111" text-anchor="middle" transform="translate(297.0 441.1) scale(0.9 1)">C19</text>
<text x="0" y="0" class="sans" font-size="9" font-weight="bold" fill="#111" text-anchor="middle" transform="translate(291.5 417.6) scale(0.9 1)">C20</text>
<text x="0" y="0" class="sans" font-size="9" font-weight="bold" fill="#111" text-anchor="middle" transform="translate(291.6 393.5) scale(0.9 1)">C21</text>
<text x="0" y="0" class="sans" font-size="9" font-weight="bold" fill="#111" text-anchor="middle" transform="translate(297.4 370.1) scale(0.9 1)">C22</text>
<text x="0" y="0" class="sans" font-size="9" font-weight="bold" fill="#111" text-anchor="middle" transform="translate(308.6 348.8) scale(0.9 1)">C23</text>
<text x="0" y="0" class="sans" font-size="9" font-weight="bold" fill="#111" text-anchor="middle" transform="translate(324.6 330.7) scale(0.9 1)">C24</text>
<text x="0" y="0" class="sans" font-size="9" font-weight="bold" fill="#111" text-anchor="middle" transform="translate(344.4 317.0) scale(0.9 1)">C25</text>
<text x="0" y="0" class="sans" font-size="9" font-weight="bold" fill="#111" text-anchor="middle" transform="translate(367.4 310.5) scale(0.9 1)">C26</text>
<rect x="482.9" y="262.8" width="52.7" height="53.8" fill="#fff" stroke="#555" stroke-width="0.7"/>
<line x1="484.2" y1="268.8" x2="503.9" y2="268.8" stroke="#f0343a" stroke-width="0.9"/>
<rect x="492.4" y="267.3" width="3" height="3" fill="#f0343a"/>
<text x="505.6" y="271.6" class="serif" font-size="8.6" fill="#222">Fv/Fm</text>
<line x1="484.2" y1="279.2" x2="503.9" y2="279.2" stroke="#1f7be0" stroke-width="0.9"/>
<circle cx="493.9" cy="279.2" r="1.8" fill="#1f7be0"/>
<text x="505.6" y="282.1" class="serif" font-size="8.6" fill="#222">ETo/RC</text>
<line x1="484.2" y1="289.7" x2="503.9" y2="289.7" stroke="#18a566" stroke-width="0.9"/>
<path d="M493.9,287.8L495.79999999999995,291.2L492.0,291.2Z" fill="#18a566"/>
<text x="505.6" y="292.5" class="serif" font-size="8.6" fill="#222">TRo/RC</text>
<line x1="484.2" y1="300.2" x2="503.9" y2="300.2" stroke="#b872e6" stroke-width="0.9"/>
<path d="M493.9,302.1L495.79999999999995,298.7L492.0,298.7Z" fill="#b872e6"/>
<text x="505.6" y="303.0" class="serif" font-size="8.6" fill="#222">REo/RC</text>
<line x1="484.2" y1="310.6" x2="503.9" y2="310.6" stroke="#e8a212" stroke-width="0.9"/>
<circle cx="493.9" cy="310.6" r="1.7" fill="#e8a212"/>
<text x="505.6" y="313.4" class="serif" font-size="8.6" fill="#222">DIo/RC</text>
<text x="0" y="0" class="pl" fill="#000" transform="translate(256.3 263.4) scale(0.75 1)">c</text>
</g>
<g id="panel-d">
<rect x="51.5" y="545.3" width="120" height="189" fill="#fff"/>
<rect x="51.80" y="545.60" width="12.73" height="6.67" fill="#ee2a22"/><rect x="65.13" y="545.60" width="12.73" height="6.67" fill="#ee2a22"/><rect x="78.47" y="545.60" width="12.73" height="6.67" fill="#ee2a22"/><rect x="91.80" y="545.60" width="12.73" height="6.67" fill="#ee2a22"/><rect x="105.13" y="545.60" width="12.73" height="6.67" fill="#1552b3"/><rect x="118.47" y="545.60" width="12.73" height="6.67" fill="#7f9fb8"/><rect x="131.80" y="545.60" width="12.73" height="6.67" fill="#1c58b4"/><rect x="145.13" y="545.60" width="12.73" height="6.67" fill="#4a7dba"/><rect x="158.47" y="545.60" width="12.73" height="6.67" fill="#1552b3"/><text x="174.2" y="551.3" class="sans" font-size="6.8" fill="#222">C16</text>
<rect x="51.80" y="552.87" width="12.73" height="6.67" fill="#fab27b"/><rect x="65.13" y="552.87" width="12.73" height="6.67" fill="#7f9fb8"/><rect x="78.47" y="552.87" width="12.73" height="6.67" fill="#f7eaa2"/><rect x="91.80" y="552.87" width="12.73" height="6.67" fill="#f7eaa2"/><rect x="105.13" y="552.87" width="12.73" height="6.67" fill="#fad997"/><rect x="118.47" y="552.87" width="12.73" height="6.67" fill="#386fb8"/><rect x="131.80" y="552.87" width="12.73" height="6.67" fill="#dddaab"/><rect x="145.13" y="552.87" width="12.73" height="6.67" fill="#e7e0a7"/><rect x="158.47" y="552.87" width="12.73" height="6.67" fill="#648eb9"/><text x="174.2" y="558.6" class="sans" font-size="6.8" fill="#222">C8</text>
<rect x="51.80" y="560.14" width="12.73" height="6.67" fill="#f7865c"/><rect x="65.13" y="560.14" width="12.73" height="6.67" fill="#fbc78a"/><rect x="78.47" y="560.14" width="12.73" height="6.67" fill="#f7865c"/><rect x="91.80" y="560.14" width="12.73" height="6.67" fill="#f7865c"/><rect x="105.13" y="560.14" width="12.73" height="6.67" fill="#fbc78a"/><rect x="118.47" y="560.14" width="12.73" height="6.67" fill="#1c58b4"/><rect x="131.80" y="560.14" width="12.73" height="6.67" fill="#1c58b4"/><rect x="145.13" y="560.14" width="12.73" height="6.67" fill="#a5b5b4"/><rect x="158.47" y="560.14" width="12.73" height="6.67" fill="#3169b7"/><text x="174.2" y="565.9" class="sans" font-size="6.8" fill="#222">C15</text>
<rect x="51.80" y="567.41" width="12.73" height="6.67" fill="#fab27b"/><rect x="65.13" y="567.41" width="12.73" height="6.67" fill="#c4cab1"/><rect x="78.47" y="567.41" width="12.73" height="6.67" fill="#f57952"/><rect x="91.80" y="567.41" width="12.73" height="6.67" fill="#f7865c"/><rect x="105.13" y="567.41" width="12.73" height="6.67" fill="#f0432f"/><rect x="118.47" y="567.41" width="12.73" height="6.67" fill="#aebbb3"/><rect x="131.80" y="567.41" width="12.73" height="6.67" fill="#4377b9"/><rect x="145.13" y="567.41" width="12.73" height="6.67" fill="#e7e0a7"/><rect x="158.47" y="567.41" width="12.73" height="6.67" fill="#648eb9"/><text x="174.2" y="573.1" class="sans" font-size="6.8" fill="#222">C25</text>
<rect x="51.80" y="574.68" width="12.73" height="6.67" fill="#f89465"/><rect x="65.13" y="574.68" width="12.73" height="6.67" fill="#c4cab1"/><rect x="78.47" y="574.68" width="12.73" height="6.67" fill="#f7eaa2"/><rect x="91.80" y="574.68" width="12.73" height="6.67" fill="#f7865c"/><rect x="105.13" y="574.68" width="12.73" height="6.67" fill="#f7eaa2"/><rect x="118.47" y="574.68" width="12.73" height="6.67" fill="#f7eaa2"/><rect x="131.80" y="574.68" width="12.73" height="6.67" fill="#3169b7"/><rect x="145.13" y="574.68" width="12.73" height="6.67" fill="#7f9fb8"/><rect x="158.47" y="574.68" width="12.73" height="6.67" fill="#5a87b9"/><text x="174.2" y="580.4" class="sans" font-size="6.8" fill="#222">C26</text>
<rect x="51.80" y="581.95" width="12.73" height="6.67" fill="#bbc4b2"/><rect x="65.13" y="581.95" width="12.73" height="6.67" fill="#1c58b4"/><rect x="78.47" y="581.95" width="12.73" height="6.67" fill="#1c58b4"/><rect x="91.80" y="581.95" width="12.73" height="6.67" fill="#1c58b4"/><rect x="105.13" y="581.95" width="12.73" height="6.67" fill="#ef3327"/><rect x="118.47" y="581.95" width="12.73" height="6.67" fill="#f4704b"/><rect x="131.80" y="581.95" width="12.73" height="6.67" fill="#ef3327"/><rect x="145.13" y="581.95" width="12.73" height="6.67" fill="#ef3327"/><rect x="158.47" y="581.95" width="12.73" height="6.67" fill="#ef3a2a"/><text x="174.2" y="587.7" class="sans" font-size="6.8" fill="#222">C7</text>
<rect x="51.80" y="589.22" width="12.73" height="6.67" fill="#c4cab1"/><rect x="65.13" y="589.22" width="12.73" height="6.67" fill="#fbcf90"/><rect x="78.47" y="589.22" width="12.73" height="6.67" fill="#205bb4"/><rect x="91.80" y="589.22" width="12.73" height="6.67" fill="#205bb4"/><rect x="105.13" y="589.22" width="12.73" height="6.67" fill="#f4704b"/><rect x="118.47" y="589.22" width="12.73" height="6.67" fill="#f57952"/><rect x="131.80" y="589.22" width="12.73" height="6.67" fill="#ef3a2a"/><rect x="145.13" y="589.22" width="12.73" height="6.67" fill="#f4704b"/><rect x="158.47" y="589.22" width="12.73" height="6.67" fill="#ef3a2a"/><text x="174.2" y="594.9" class="sans" font-size="6.8" fill="#222">C6</text>
<rect x="51.80" y="596.48" width="12.73" height="6.67" fill="#fbc78a"/><rect x="65.13" y="596.48" width="12.73" height="6.67" fill="#648eb9"/><rect x="78.47" y="596.48" width="12.73" height="6.67" fill="#3f74b9"/><rect x="91.80" y="596.48" width="12.73" height="6.67" fill="#205bb4"/><rect x="105.13" y="596.48" width="12.73" height="6.67" fill="#f57952"/><rect x="118.47" y="596.48" width="12.73" height="6.67" fill="#faba81"/><rect x="131.80" y="596.48" width="12.73" height="6.67" fill="#f78b5f"/><rect x="145.13" y="596.48" width="12.73" height="6.67" fill="#fabe84"/><rect x="158.47" y="596.48" width="12.73" height="6.67" fill="#f0402e"/><text x="174.2" y="602.2" class="sans" font-size="6.8" fill="#222">C3</text>
<rect x="51.80" y="603.75" width="12.73" height="6.67" fill="#bbc4b2"/><rect x="65.13" y="603.75" width="12.73" height="6.67" fill="#6f95b9"/><rect x="78.47" y="603.75" width="12.73" height="6.67" fill="#205bb4"/><rect x="91.80" y="603.75" width="12.73" height="6.67" fill="#3f74b9"/><rect x="105.13" y="603.75" width="12.73" height="6.67" fill="#fbc78a"/><rect x="118.47" y="603.75" width="12.73" height="6.67" fill="#f99d6c"/><rect x="131.80" y="603.75" width="12.73" height="6.67" fill="#f7865c"/><rect x="145.13" y="603.75" width="12.73" height="6.67" fill="#fabe84"/><rect x="158.47" y="603.75" width="12.73" height="6.67" fill="#f0402e"/><text x="174.2" y="609.5" class="sans" font-size="6.8" fill="#222">C5</text>
<rect x="51.80" y="611.02" width="12.73" height="6.67" fill="#8da7b6"/><rect x="65.13" y="611.02" width="12.73" height="6.67" fill="#f7eaa2"/><rect x="78.47" y="611.02" width="12.73" height="6.67" fill="#c4cab1"/><rect x="91.80" y="611.02" width="12.73" height="6.67" fill="#bbc4b2"/><rect x="105.13" y="611.02" width="12.73" height="6.67" fill="#96adb6"/><rect x="118.47" y="611.02" width="12.73" height="6.67" fill="#fabe84"/><rect x="131.80" y="611.02" width="12.73" height="6.67" fill="#fab27b"/><rect x="145.13" y="611.02" width="12.73" height="6.67" fill="#1552b3"/><rect x="158.47" y="611.02" width="12.73" height="6.67" fill="#3f74b9"/><text x="174.2" y="616.8" class="sans" font-size="6.8" fill="#222">C1</text>
<rect x="51.80" y="618.29" width="12.73" height="6.67" fill="#f57952"/><rect x="65.13" y="618.29" width="12.73" height="6.67" fill="#f7865c"/><rect x="78.47" y="618.29" width="12.73" height="6.67" fill="#c4cab1"/><rect x="91.80" y="618.29" width="12.73" height="6.67" fill="#bbc4b2"/><rect x="105.13" y="618.29" width="12.73" height="6.67" fill="#fabe84"/><rect x="118.47" y="618.29" width="12.73" height="6.67" fill="#fabe84"/><rect x="131.80" y="618.29" width="12.73" height="6.67" fill="#fabe84"/><rect x="145.13" y="618.29" width="12.73" height="6.67" fill="#96adb6"/><rect x="158.47" y="618.29" width="12.73" height="6.67" fill="#7f9fb8"/><text x="174.2" y="624.0" class="sans" font-size="6.8" fill="#222">C2</text>
<rect x="51.80" y="625.56" width="12.73" height="6.67" fill="#6f95b9"/><rect x="65.13" y="625.56" width="12.73" height="6.67" fill="#aebbb3"/><rect x="78.47" y="625.56" width="12.73" height="6.67" fill="#4a7dba"/><rect x="91.80" y="625.56" width="12.73" height="6.67" fill="#4a7dba"/><rect x="105.13" y="625.56" width="12.73" height="6.67" fill="#f4704b"/><rect x="118.47" y="625.56" width="12.73" height="6.67" fill="#fab27b"/><rect x="131.80" y="625.56" width="12.73" height="6.67" fill="#fabe84"/><rect x="145.13" y="625.56" width="12.73" height="6.67" fill="#bbc4b2"/><rect x="158.47" y="625.56" width="12.73" height="6.67" fill="#f7eaa2"/><text x="174.2" y="631.3" class="sans" font-size="6.8" fill="#222">C17</text>
<rect x="51.80" y="632.83" width="12.73" height="6.67" fill="#4377b9"/><rect x="65.13" y="632.83" width="12.73" height="6.67" fill="#fbc78a"/><rect x="78.47" y="632.83" width="12.73" height="6.67" fill="#3169b7"/><rect x="91.80" y="632.83" width="12.73" height="6.67" fill="#3f74b9"/><rect x="105.13" y="632.83" width="12.73" height="6.67" fill="#f9a572"/><rect x="118.47" y="632.83" width="12.73" height="6.67" fill="#f14933"/><rect x="131.80" y="632.83" width="12.73" height="6.67" fill="#fabe84"/><rect x="145.13" y="632.83" width="12.73" height="6.67" fill="#fbc78a"/><rect x="158.47" y="632.83" width="12.73" height="6.67" fill="#c4cab1"/><text x="174.2" y="638.6" class="sans" font-size="6.8" fill="#222">C22</text>
<rect x="51.80" y="640.10" width="12.73" height="6.67" fill="#4a7dba"/><rect x="65.13" y="640.10" width="12.73" height="6.67" fill="#c4cab1"/><rect x="78.47" y="640.10" width="12.73" height="6.67" fill="#aebbb3"/><rect x="91.80" y="640.10" width="12.73" height="6.67" fill="#7f9fb8"/><rect x="105.13" y="640.10" width="12.73" height="6.67" fill="#f4704b"/><rect x="118.47" y="640.10" width="12.73" height="6.67" fill="#ef3327"/><rect x="131.80" y="640.10" width="12.73" height="6.67" fill="#fab27b"/><rect x="145.13" y="640.10" width="12.73" height="6.67" fill="#e7e0a7"/><rect x="158.47" y="640.10" width="12.73" height="6.67" fill="#f9a572"/><text x="174.2" y="645.8" class="sans" font-size="6.8" fill="#222">C24</text>
<rect x="51.80" y="647.37" width="12.73" height="6.67" fill="#fabe84"/><rect x="65.13" y="647.37" width="12.73" height="6.67" fill="#f7eaa2"/><rect x="78.47" y="647.37" width="12.73" height="6.67" fill="#f7eaa2"/><rect x="91.80" y="647.37" width="12.73" height="6.67" fill="#aebbb3"/><rect x="105.13" y="647.37" width="12.73" height="6.67" fill="#fbc78a"/><rect x="118.47" y="647.37" width="12.73" height="6.67" fill="#f89465"/><rect x="131.80" y="647.37" width="12.73" height="6.67" fill="#fabe84"/><rect x="145.13" y="647.37" width="12.73" height="6.67" fill="#f8e39e"/><rect x="158.47" y="647.37" width="12.73" height="6.67" fill="#fabe84"/><text x="174.2" y="653.1" class="sans" font-size="6.8" fill="#222">C9</text>
<rect x="51.80" y="654.64" width="12.73" height="6.67" fill="#f89465"/><rect x="65.13" y="654.64" width="12.73" height="6.67" fill="#bbc4b2"/><rect x="78.47" y="654.64" width="12.73" height="6.67" fill="#7f9fb8"/><rect x="91.80" y="654.64" width="12.73" height="6.67" fill="#fbcf90"/><rect x="105.13" y="654.64" width="12.73" height="6.67" fill="#f15036"/><rect x="118.47" y="654.64" width="12.73" height="6.67" fill="#f89465"/><rect x="131.80" y="654.64" width="12.73" height="6.67" fill="#fbc78a"/><rect x="145.13" y="654.64" width="12.73" height="6.67" fill="#fbcf90"/><rect x="158.47" y="654.64" width="12.73" height="6.67" fill="#faae78"/><text x="174.2" y="660.4" class="sans" font-size="6.8" fill="#222">C11</text>
<rect x="51.80" y="661.91" width="12.73" height="6.67" fill="#a0b3b4"/><rect x="65.13" y="661.91" width="12.73" height="6.67" fill="#c4cab1"/><rect x="78.47" y="661.91" width="12.73" height="6.67" fill="#8da7b6"/><rect x="91.80" y="661.91" width="12.73" height="6.67" fill="#2760b5"/><rect x="105.13" y="661.91" width="12.73" height="6.67" fill="#7f9fb8"/><rect x="118.47" y="661.91" width="12.73" height="6.67" fill="#fad997"/><rect x="131.80" y="661.91" width="12.73" height="6.67" fill="#fbc78a"/><rect x="145.13" y="661.91" width="12.73" height="6.67" fill="#fad292"/><rect x="158.47" y="661.91" width="12.73" height="6.67" fill="#aebbb3"/><text x="174.2" y="667.6" class="sans" font-size="6.8" fill="#222">C4</text>
<rect x="51.80" y="669.18" width="12.73" height="6.67" fill="#648eb9"/><rect x="65.13" y="669.18" width="12.73" height="6.67" fill="#205bb4"/><rect x="78.47" y="669.18" width="12.73" height="6.67" fill="#aebbb3"/><rect x="91.80" y="669.18" width="12.73" height="6.67" fill="#bbc4b2"/><rect x="105.13" y="669.18" width="12.73" height="6.67" fill="#f7eaa2"/><rect x="118.47" y="669.18" width="12.73" height="6.67" fill="#fbc78a"/><rect x="131.80" y="669.18" width="12.73" height="6.67" fill="#f89465"/><rect x="145.13" y="669.18" width="12.73" height="6.67" fill="#aebbb3"/><rect x="158.47" y="669.18" width="12.73" height="6.67" fill="#c4cab1"/><text x="174.2" y="674.9" class="sans" font-size="6.8" fill="#222">C19</text>
<rect x="51.80" y="676.45" width="12.73" height="6.67" fill="#5a87b9"/><rect x="65.13" y="676.45" width="12.73" height="6.67" fill="#3f74b9"/><rect x="78.47" y="676.45" width="12.73" height="6.67" fill="#2a63b6"/><rect x="91.80" y="676.45" width="12.73" height="6.67" fill="#7f9fb8"/><rect x="105.13" y="676.45" width="12.73" height="6.67" fill="#c4cab1"/><rect x="118.47" y="676.45" width="12.73" height="6.67" fill="#fbc78a"/><rect x="131.80" y="676.45" width="12.73" height="6.67" fill="#fbc78a"/><rect x="145.13" y="676.45" width="12.73" height="6.67" fill="#96adb6"/><rect x="158.47" y="676.45" width="12.73" height="6.67" fill="#bbc4b2"/><text x="174.2" y="682.2" class="sans" font-size="6.8" fill="#222">C20</text>
<rect x="51.80" y="683.72" width="12.73" height="6.67" fill="#8da7b6"/><rect x="65.13" y="683.72" width="12.73" height="6.67" fill="#f7eaa2"/><rect x="78.47" y="683.72" width="12.73" height="6.67" fill="#a5b5b4"/><rect x="91.80" y="683.72" width="12.73" height="6.67" fill="#235db5"/><rect x="105.13" y="683.72" width="12.73" height="6.67" fill="#f9a572"/><rect x="118.47" y="683.72" width="12.73" height="6.67" fill="#aebbb3"/><rect x="131.80" y="683.72" width="12.73" height="6.67" fill="#f4704b"/><rect x="145.13" y="683.72" width="12.73" height="6.67" fill="#fbc78a"/><rect x="158.47" y="683.72" width="12.73" height="6.67" fill="#f4704b"/><text x="174.2" y="689.4" class="sans" font-size="6.8" fill="#222">C10</text>
<rect x="51.80" y="690.98" width="12.73" height="6.67" fill="#a0b3b4"/><rect x="65.13" y="690.98" width="12.73" height="6.67" fill="#e7e0a7"/><rect x="78.47" y="690.98" width="12.73" height="6.67" fill="#7f9fb8"/><rect x="91.80" y="690.98" width="12.73" height="6.67" fill="#c4cab1"/><rect x="105.13" y="690.98" width="12.73" height="6.67" fill="#fabe84"/><rect x="118.47" y="690.98" width="12.73" height="6.67" fill="#c4cab1"/><rect x="131.80" y="690.98" width="12.73" height="6.67" fill="#fabe84"/><rect x="145.13" y="690.98" width="12.73" height="6.67" fill="#f7eaa2"/><rect x="158.47" y="690.98" width="12.73" height="6.67" fill="#fabe84"/><text x="174.2" y="696.7" class="sans" font-size="6.8" fill="#222">C12</text>
<rect x="51.80" y="698.25" width="12.73" height="6.67" fill="#7f9fb8"/><rect x="65.13" y="698.25" width="12.73" height="6.67" fill="#fab27b"/><rect x="78.47" y="698.25" width="12.73" height="6.67" fill="#c4cab1"/><rect x="91.80" y="698.25" width="12.73" height="6.67" fill="#b2beb3"/><rect x="105.13" y="698.25" width="12.73" height="6.67" fill="#f2593b"/><rect x="118.47" y="698.25" width="12.73" height="6.67" fill="#7f9fb8"/><rect x="131.80" y="698.25" width="12.73" height="6.67" fill="#fbc78a"/><rect x="145.13" y="698.25" width="12.73" height="6.67" fill="#c4cab1"/><rect x="158.47" y="698.25" width="12.73" height="6.67" fill="#faae78"/><text x="174.2" y="704.0" class="sans" font-size="6.8" fill="#222">C14</text>
<rect x="51.80" y="705.52" width="12.73" height="6.67" fill="#205bb4"/><rect x="65.13" y="705.52" width="12.73" height="6.67" fill="#bbc4b2"/><rect x="78.47" y="705.52" width="12.73" height="6.67" fill="#fbc78a"/><rect x="91.80" y="705.52" width="12.73" height="6.67" fill="#fab67e"/><rect x="105.13" y="705.52" width="12.73" height="6.67" fill="#f36242"/><rect x="118.47" y="705.52" width="12.73" height="6.67" fill="#f7eaa2"/><rect x="131.80" y="705.52" width="12.73" height="6.67" fill="#f78b5f"/><rect x="145.13" y="705.52" width="12.73" height="6.67" fill="#b2beb3"/><rect x="158.47" y="705.52" width="12.73" height="6.67" fill="#fab67e"/><text x="174.2" y="711.3" class="sans" font-size="6.8" fill="#222">C21</text>
<rect x="51.80" y="712.79" width="12.73" height="6.67" fill="#205bb4"/><rect x="65.13" y="712.79" width="12.73" height="6.67" fill="#f7eaa2"/><rect x="78.47" y="712.79" width="12.73" height="6.67" fill="#648eb9"/><rect x="91.80" y="712.79" width="12.73" height="6.67" fill="#fad694"/><rect x="105.13" y="712.79" width="12.73" height="6.67" fill="#fabe84"/><rect x="118.47" y="712.79" width="12.73" height="6.67" fill="#faae78"/><rect x="131.80" y="712.79" width="12.73" height="6.67" fill="#fabe84"/><rect x="145.13" y="712.79" width="12.73" height="6.67" fill="#648eb9"/><rect x="158.47" y="712.79" width="12.73" height="6.67" fill="#fbcf90"/><text x="174.2" y="718.5" class="sans" font-size="6.8" fill="#222">C23</text>
<rect x="51.80" y="720.06" width="12.73" height="6.67" fill="#386fb8"/><rect x="65.13" y="720.06" width="12.73" height="6.67" fill="#c4cab1"/><rect x="78.47" y="720.06" width="12.73" height="6.67" fill="#f7eaa2"/><rect x="91.80" y="720.06" width="12.73" height="6.67" fill="#5a87b9"/><rect x="105.13" y="720.06" width="12.73" height="6.67" fill="#bbc4b2"/><rect x="118.47" y="720.06" width="12.73" height="6.67" fill="#fab67e"/><rect x="131.80" y="720.06" width="12.73" height="6.67" fill="#fbc78a"/><rect x="145.13" y="720.06" width="12.73" height="6.67" fill="#c4cab1"/><rect x="158.47" y="720.06" width="12.73" height="6.67" fill="#fbc78a"/><text x="174.2" y="725.8" class="sans" font-size="6.8" fill="#222">C13</text>
<rect x="51.80" y="727.33" width="12.73" height="6.67" fill="#205bb4"/><rect x="65.13" y="727.33" width="12.73" height="6.67" fill="#c4cab1"/><rect x="78.47" y="727.33" width="12.73" height="6.67" fill="#bbc4b2"/><rect x="91.80" y="727.33" width="12.73" height="6.67" fill="#b2beb3"/><rect x="105.13" y="727.33" width="12.73" height="6.67" fill="#fbc78a"/><rect x="118.47" y="727.33" width="12.73" height="6.67" fill="#fabe84"/><rect x="131.80" y="727.33" width="12.73" height="6.67" fill="#fabe84"/><rect x="145.13" y="727.33" width="12.73" height="6.67" fill="#f8e39e"/><rect x="158.47" y="727.33" width="12.73" height="6.67" fill="#f89465"/><text x="174.2" y="733.1" class="sans" font-size="6.8" fill="#222">C18</text>
<path d="M84.8,537.3L84.8,544.9M98.2,537.3L98.2,544.9M84.8,537.3L98.2,537.3M91.5,529.8L91.5,537.3M71.5,529.8L71.5,544.9M71.5,529.8L91.5,529.8M81.5,522.3L81.5,529.8M58.2,522.3L58.2,544.9M58.2,522.3L81.5,522.3M124.8,537.3L124.8,544.9M138.2,537.3L138.2,544.9M124.8,537.3L138.2,537.3M151.5,537.3L151.5,544.9M164.8,537.3L164.8,544.9M151.5,537.3L164.8,537.3M131.5,530.5L131.5,537.3M158.2,530.5L158.2,537.3M131.5,530.5L158.2,530.5M144.8,522.3L144.8,530.5M111.5,522.3L111.5,544.9M111.5,522.3L144.8,522.3M69.8,515.5L69.8,522.3M128.2,515.5L128.2,522.3M69.8,515.5L128.2,515.5M37.6,570.7L51.1,570.7M37.6,578.0L51.1,578.0M37.6,570.7L37.6,578.0M34.7,563.5L51.1,563.5M34.7,574.4L37.6,574.4M34.7,563.5L34.7,574.4M32.0,556.2L51.1,556.2M32.0,568.9L34.7,568.9M32.0,556.2L32.0,568.9M29.5,548.9L51.1,548.9M29.5,562.7L32.0,562.7M29.5,548.9L29.5,562.7M37.6,599.8L51.1,599.8M37.6,607.1L51.1,607.1M37.6,599.8L37.6,607.1M34.7,592.5L51.1,592.5M34.7,603.5L37.6,603.5M34.7,592.5L34.7,603.5M32.0,585.3L51.1,585.3M32.0,598.0L34.7,598.0M32.0,585.3L32.0,598.0M35.2,614.4L51.1,614.4M35.2,621.6L51.1,621.6M35.2,614.4L35.2,621.6M43.2,636.2L51.1,636.2M43.2,643.4L51.1,643.4M43.2,636.2L43.2,643.4M40.5,628.9L51.1,628.9M40.5,639.8L43.2,639.8M40.5,628.9L40.5,639.8M40.5,650.7L51.1,650.7M40.5,658.0L51.1,658.0M40.5,650.7L40.5,658.0M37.5,634.3L40.5,634.3M37.5,654.3L40.5,654.3M37.5,634.3L37.5,654.3M43.2,672.5L51.1,672.5M43.2,679.8L51.1,679.8M43.2,672.5L43.2,679.8M41.0,665.2L51.1,665.2M41.0,676.1L43.2,676.1M41.0,665.2L41.0,676.1M45.8,694.3L51.1,694.3M45.8,701.6L51.1,701.6M45.8,694.3L45.8,701.6M43.2,687.0L51.1,687.0M43.2,698.0L45.8,698.0M43.2,687.0L43.2,698.0M48.5,723.4L51.1,723.4M48.5,730.7L51.1,730.7M48.5,723.4L48.5,730.7M45.8,716.1L51.1,716.1M45.8,727.0L48.5,727.0M45.8,716.1L45.8,727.0M43.2,708.9L51.1,708.9M43.2,721.6L45.8,721.6M43.2,708.9L43.2,721.6M40.0,692.5L43.2,692.5M40.0,715.4L43.2,715.4M40.0,692.5L40.0,715.4M37.5,670.7L41.0,670.7M37.5,703.8L40.0,703.8M37.5,670.7L37.5,703.8M34.9,644.2L37.5,644.2M34.9,687.0L37.5,687.0M34.9,644.2L34.9,687.0M31.7,618.0L35.2,618.0M31.7,665.2L34.9,665.2M31.7,618.0L31.7,665.2M29.5,591.8L32.0,591.8M29.5,641.3L31.7,641.3M29.5,591.8L29.5,641.3M27.0,555.8L29.5,555.8M27.0,616.5L29.5,616.5M27.0,555.8L27.0,616.5" fill="none" stroke="#8a8a8a" stroke-width="0.6"/>
<text x="0" y="0" class="sans" font-size="6.3" fill="#222" text-anchor="end" transform="translate(63.0 738.9) rotate(-45)">Plant height</text>
<text x="0" y="0" class="sans" font-size="6.3" fill="#222" text-anchor="end" transform="translate(76.3 738.9) rotate(-45)">Electrolyte permeability</text>
<text x="0" y="0" class="sans" font-size="6.3" fill="#222" text-anchor="end" transform="translate(89.6 738.9) rotate(-45)">Leaf color</text>
<text x="0" y="0" class="sans" font-size="6.3" fill="#222" text-anchor="end" transform="translate(103.0 738.9) rotate(-45)">MDA</text>
<text x="0" y="0" class="sans" font-size="6.3" fill="#222" text-anchor="end" transform="translate(116.3 738.9) rotate(-45)">Leaf area</text>
<text x="0" y="0" class="sans" font-size="6.3" fill="#222" text-anchor="end" transform="translate(129.6 738.9) rotate(-45)">Soluble protein</text>
<text x="0" y="0" class="sans" font-size="6.3" fill="#222" text-anchor="end" transform="translate(143.0 738.9) rotate(-45)">Vc content</text>
<text x="0" y="0" class="sans" font-size="6.3" fill="#222" text-anchor="end" transform="translate(156.3 738.9) rotate(-45)">Cellulose content</text>
<text x="0" y="0" class="sans" font-size="6.3" fill="#222" text-anchor="end" transform="translate(169.6 738.9) rotate(-45)">Soluble sugar</text>
<defs><linearGradient id="cb" x1="0" y1="1" x2="0" y2="0"><stop offset="0.0" stop-color="#1552b3"/><stop offset="0.15" stop-color="#4a7dba"/><stop offset="0.25" stop-color="#7f9fb8"/><stop offset="0.35" stop-color="#aebbb3"/><stop offset="0.42" stop-color="#cdd0b0"/><stop offset="0.5" stop-color="#f7eaa2"/><stop offset="0.58" stop-color="#fbcf90"/><stop offset="0.7" stop-color="#f99d6c"/><stop offset="0.85" stop-color="#f2593b"/><stop offset="1.0" stop-color="#ee2a22"/></linearGradient></defs>
<rect x="214.5" y="545.2" width="9.5" height="70.4" fill="url(#cb)"/>
<line x1="224" y1="545.6" x2="225.2" y2="545.6" stroke="#555" stroke-width="0.4"/><text x="226.2" y="547.6" class="sans" font-size="5.6" fill="#222">1.00</text>
<line x1="224" y1="559.6" x2="225.2" y2="559.6" stroke="#555" stroke-width="0.4"/><text x="226.2" y="561.6" class="sans" font-size="5.6" fill="#222">0.80</text>
<line x1="224" y1="573.5" x2="225.2" y2="573.5" stroke="#555" stroke-width="0.4"/><text x="226.2" y="575.5" class="sans" font-size="5.6" fill="#222">0.60</text>
<line x1="224" y1="587.5" x2="225.2" y2="587.5" stroke="#555" stroke-width="0.4"/><text x="226.2" y="589.5" class="sans" font-size="5.6" fill="#222">0.40</text>
<line x1="224" y1="601.4" x2="225.2" y2="601.4" stroke="#555" stroke-width="0.4"/><text x="226.2" y="603.4" class="sans" font-size="5.6" fill="#222">0.20</text>
<line x1="224" y1="615.4" x2="225.2" y2="615.4" stroke="#555" stroke-width="0.4"/><text x="226.2" y="617.4" class="sans" font-size="5.6" fill="#222">0.00</text>
<text x="0" y="0" class="pl" fill="#000" transform="translate(19.4 523.8) scale(0.78 1)">d</text>
</g>
<g id="panel-e">
<rect x="286.9" y="523.5" width="211.5" height="199.1" fill="#fff" stroke="#222" stroke-width="0.9"/>
<line x1="286.9" y1="640.6" x2="498.4" y2="640.6" stroke="#222" stroke-width="0.8"/>
<line x1="404.2" y1="523.5" x2="404.2" y2="722.6" stroke="#222" stroke-width="0.8"/>
<ellipse cx="367" cy="608.4" rx="46" ry="71.6" fill="none" stroke="#555" stroke-width="0.7" transform="rotate(-7.6 367 608.4)"/>
<ellipse cx="443" cy="627" rx="72" ry="21.5" fill="none" stroke="#f2555a" stroke-width="0.7" transform="rotate(-59.6 443 627)"/>
<ellipse cx="399.3" cy="654.3" rx="8.8" ry="49" fill="none" stroke="#22dd44" stroke-width="0.8" transform="rotate(2.8 399.3 654.3)"/>
<circle cx="359.4" cy="603.2" r="1.25" fill="#111"/><circle cx="371.4" cy="599.6" r="1.25" fill="#111"/><circle cx="364.9" cy="613.3" r="1.25" fill="#111"/><circle cx="370.1" cy="617.1" r="1.25" fill="#111"/><circle cx="458.1" cy="604.5" r="1.25" fill="#f01818"/><circle cx="436.8" cy="625" r="1.25" fill="#f01818"/><circle cx="438.2" cy="628.5" r="1.25" fill="#f01818"/><circle cx="438.7" cy="631.3" r="1.25" fill="#f01818"/><circle cx="447.7" cy="626.9" r="1.25" fill="#f01818"/><circle cx="434.9" cy="647.6" r="1.25" fill="#f01818"/><circle cx="402.7" cy="617.4" r="1.25" fill="#18e030"/><circle cx="396.7" cy="629.1" r="1.25" fill="#18e030"/><circle cx="401.4" cy="625.5" r="1.25" fill="#18e030"/><circle cx="394" cy="648.2" r="1.25" fill="#18e030"/><circle cx="400" cy="650.4" r="1.25" fill="#18e030"/><circle cx="400.5" cy="653.6" r="1.25" fill="#18e030"/><circle cx="402.2" cy="656.4" r="1.25" fill="#18e030"/><circle cx="399.5" cy="657.7" r="1.25" fill="#18e030"/><circle cx="397.8" cy="659.6" r="1.25" fill="#18e030"/><circle cx="400.5" cy="660.4" r="1.25" fill="#18e030"/><circle cx="394" cy="661.3" r="1.25" fill="#18e030"/><circle cx="402.2" cy="663.2" r="1.25" fill="#18e030"/><circle cx="401.4" cy="667.3" r="1.25" fill="#18e030"/><circle cx="392.4" cy="669.4" r="1.25" fill="#18e030"/><circle cx="399.5" cy="671.4" r="1.25" fill="#18e030"/><circle cx="398.1" cy="674.6" r="1.25" fill="#18e030"/>
<line x1="404.2" y1="640.6" x2="343.6" y2="611.4" stroke="#111" stroke-width="1.25"/><path d="M339.5,609.4L345.5,609.9L343.6,613.8Z" fill="#111"/>
<line x1="404.2" y1="640.6" x2="341.3" y2="626.5" stroke="#111" stroke-width="1.25"/><path d="M336.8,625.5L342.7,624.6L341.8,628.9Z" fill="#111"/>
<line x1="404.2" y1="640.6" x2="341.4" y2="639.7" stroke="#111" stroke-width="1.25"/><path d="M336.8,639.6L342.4,637.5L342.4,641.9Z" fill="#111"/>
<line x1="404.2" y1="640.6" x2="340.9" y2="648.4" stroke="#111" stroke-width="1.25"/><path d="M336.3,649.0L341.6,646.1L342.1,650.5Z" fill="#111"/>
<line x1="404.2" y1="640.6" x2="440.1" y2="558.3" stroke="#111" stroke-width="1.25"/><path d="M441.9,554.1L441.7,560.1L437.6,558.4Z" fill="#111"/>
<line x1="404.2" y1="640.6" x2="466.0" y2="619.7" stroke="#111" stroke-width="1.25"/><path d="M470.4,618.2L465.8,622.1L464.4,617.9Z" fill="#111"/>
<line x1="404.2" y1="640.6" x2="467.6" y2="635.0" stroke="#111" stroke-width="1.25"/><path d="M472.2,634.6L466.8,637.3L466.4,632.9Z" fill="#111"/>
<line x1="404.2" y1="640.6" x2="464.0" y2="639.3" stroke="#111" stroke-width="1.25"/><path d="M468.6,639.2L463.0,641.5L463.0,637.1Z" fill="#111"/>
<line x1="404.2" y1="640.6" x2="459.1" y2="684.0" stroke="#111" stroke-width="1.25"/><path d="M462.7,686.9L456.9,685.1L459.7,681.7Z" fill="#111"/>
<text x="334.0" y="608.6" class="serif" font-size="6.4" fill="#111" text-anchor="end">Cellulose content</text>
<text x="334.0" y="621.6" class="serif" font-size="6.4" fill="#111" text-anchor="end">Soluble sugar</text>
<text x="334.0" y="635.3" class="serif" font-size="6.4" fill="#111" text-anchor="end">Soluble protein</text>
<text x="328.6" y="654.4" class="serif" font-size="6.4" fill="#111" text-anchor="end">Vc content</text>
<text x="441.9" y="550.7" class="serif" font-size="6.4" fill="#111" text-anchor="start">Plant height</text>
<text x="427.3" y="615.6" class="serif" font-size="6.4" fill="#111" text-anchor="start">Electrolyte permeability</text>
<text x="473.6" y="637.5" class="serif" font-size="6.4" fill="#111" text-anchor="start">MDA</text>
<text x="455.1" y="652.2" class="serif" font-size="6.4" fill="#111" text-anchor="start">Leaf color</text>
<text x="443.6" y="694.5" class="serif" font-size="6.4" fill="#111" text-anchor="start">Leaf area ratio</text>
<text x="282.5" y="526.2" class="sans" font-size="7.6" fill="#111" text-anchor="end">5</text>
<text x="282.5" y="549.6" class="sans" font-size="7.6" fill="#111" text-anchor="end">4</text>
<text x="282.5" y="573.0" class="sans" font-size="7.6" fill="#111" text-anchor="end">3</text>
<text x="282.5" y="596.4" class="sans" font-size="7.6" fill="#111" text-anchor="end">2</text>
<text x="282.5" y="619.8" class="sans" font-size="7.6" fill="#111" text-anchor="end">1</text>
<text x="282.5" y="643.2" class="sans" font-size="7.6" fill="#111" text-anchor="end">0</text>
<text x="282.5" y="666.6" class="sans" font-size="7.6" fill="#111" text-anchor="end">-1</text>
<text x="282.5" y="690.0" class="sans" font-size="7.6" fill="#111" text-anchor="end">-2</text>
<text x="282.5" y="713.4" class="sans" font-size="7.6" fill="#111" text-anchor="end">-3</text>
<text x="309.4" y="736.2" class="sans" font-size="7.6" fill="#111" text-anchor="middle">-10</text>
<text x="356.8" y="736.2" class="sans" font-size="7.6" fill="#111" text-anchor="middle">-5</text>
<text x="404.2" y="736.2" class="sans" font-size="7.6" fill="#111" text-anchor="middle">0</text>
<text x="451.6" y="736.2" class="sans" font-size="7.6" fill="#111" text-anchor="middle">5</text>
<text x="499.0" y="736.2" class="sans" font-size="7.6" fill="#111" text-anchor="middle">10</text>
<text x="393" y="752.2" class="serif" font-size="9.2" fill="#222" text-anchor="middle">PC1 (77.6%)</text>
<text x="0" y="0" class="serif" font-size="9.8" fill="#222" text-anchor="middle" textLength="54" lengthAdjust="spacingAndGlyphs" transform="translate(271.7 623.5) rotate(-90)">PC2 (11.0%)</text>
<rect x="516.3" y="513.7" width="19.4" height="50.2" fill="#fff" stroke="#555" stroke-width="0.7"/>
<clipPath id="lgc"><rect x="516.6" y="514" width="18.8" height="49.6"/></clipPath>
<g clip-path="url(#lgc)"><circle cx="518.8" cy="521.0" r="0.9" fill="#111"/><text x="523.1" y="523.1" class="serif" font-size="6.4" fill="#222">High</text><circle cx="518.8" cy="533.4" r="0.9" fill="#f01818"/><text x="523.1" y="535.5" class="serif" font-size="6.4" fill="#222">Low</text><circle cx="518.8" cy="546.7" r="0.9" fill="#18e030"/><text x="523.1" y="548.8" class="serif" font-size="6.4" fill="#222">Middle</text></g>
<text x="0" y="0" class="pl" fill="#000" transform="translate(256.3 522.8) scale(0.78 1)">e</text>
</g>
</svg>
</body>
</html>
